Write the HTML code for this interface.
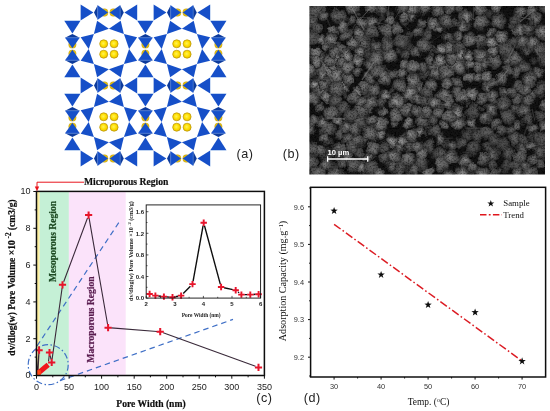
<!DOCTYPE html>
<html><head><meta charset="utf-8"><title>Figure</title>
<style>html,body{margin:0;padding:0;background:#fff}svg{display:block}</style></head>
<body>
<svg width="550" height="411" viewBox="0 0 550 411">
<defs>
<radialGradient id="ball" cx="45%" cy="45%" r="60%"><stop offset="0" stop-color="#fff25a"/><stop offset="0.5" stop-color="#ffe004"/><stop offset="0.85" stop-color="#f0c800"/><stop offset="1" stop-color="#d0a800"/></radialGradient>
<radialGradient id="ball2" cx="50%" cy="50%" r="55%"><stop offset="0" stop-color="#f2cf10"/><stop offset="0.8" stop-color="#e0b810"/><stop offset="1" stop-color="#b89818"/></radialGradient>
<filter id="soft" x="0" y="0" width="550" height="411" filterUnits="userSpaceOnUse"><feGaussianBlur stdDeviation="0.35"/></filter>

<clipPath id="semclip"><rect x="309.4" y="6" width="235.6" height="168.5"/></clipPath>
<radialGradient id="sg1" cx="45%" cy="42%" r="58%"><stop offset="0" stop-color="#787878"/><stop offset="0.55" stop-color="#5a5a5a"/><stop offset="0.88" stop-color="#383838"/><stop offset="1" stop-color="#262626" stop-opacity="0.7"/></radialGradient>
<radialGradient id="sg2" cx="55%" cy="48%" r="56%"><stop offset="0" stop-color="#6a6a6a"/><stop offset="0.6" stop-color="#525252"/><stop offset="0.9" stop-color="#343434"/><stop offset="1" stop-color="#222" stop-opacity="0.7"/></radialGradient>
<radialGradient id="sg3" cx="50%" cy="55%" r="55%"><stop offset="0" stop-color="#868686"/><stop offset="0.5" stop-color="#606060"/><stop offset="0.88" stop-color="#3a3a3a"/><stop offset="1" stop-color="#282828" stop-opacity="0.7"/></radialGradient>
<filter id="sem" x="300" y="0" width="250" height="180" filterUnits="userSpaceOnUse" color-interpolation-filters="sRGB"><feTurbulence type="fractalNoise" baseFrequency="0.13" numOctaves="2" seed="3" result="lo"/><feDisplacementMap in="SourceGraphic" in2="lo" scale="7" xChannelSelector="R" yChannelSelector="G" result="disp"/><feTurbulence type="fractalNoise" baseFrequency="0.6" numOctaves="3" seed="11" result="hi"/><feColorMatrix in="hi" type="matrix" values="0.9 0 0 0 0.5  0.9 0 0 0 0.5  0.9 0 0 0 0.5  0 0 0 0 1" result="grain"/><feBlend in="disp" in2="grain" mode="multiply" result="m"/><feGaussianBlur in="m" stdDeviation="0.45" result="bl"/><feComponentTransfer in="bl"><feFuncR type="linear" slope="1.4" intercept="-0.115"/><feFuncG type="linear" slope="1.4" intercept="-0.115"/><feFuncB type="linear" slope="1.4" intercept="-0.115"/></feComponentTransfer></filter>

</defs>
<rect width="550" height="411" fill="#fff"/>
<g id="panel-a" filter="url(#soft)">
<circle cx="104.3" cy="12.5" r="3.9" fill="url(#ball2)"/>
<circle cx="113.5" cy="12.5" r="3.9" fill="url(#ball2)"/>
<circle cx="177.3" cy="12.5" r="3.9" fill="url(#ball2)"/>
<circle cx="186.5" cy="12.5" r="3.9" fill="url(#ball2)"/>
<circle cx="104.3" cy="85.5" r="3.9" fill="url(#ball2)"/>
<circle cx="113.5" cy="85.5" r="3.9" fill="url(#ball2)"/>
<circle cx="177.3" cy="85.5" r="3.9" fill="url(#ball2)"/>
<circle cx="186.5" cy="85.5" r="3.9" fill="url(#ball2)"/>
<circle cx="104.3" cy="158.5" r="3.9" fill="url(#ball2)"/>
<circle cx="113.5" cy="158.5" r="3.9" fill="url(#ball2)"/>
<circle cx="177.3" cy="158.5" r="3.9" fill="url(#ball2)"/>
<circle cx="186.5" cy="158.5" r="3.9" fill="url(#ball2)"/>
<circle cx="72.4" cy="44.4" r="3.9" fill="url(#ball2)"/>
<circle cx="72.4" cy="53.6" r="3.9" fill="url(#ball2)"/>
<circle cx="72.4" cy="117.4" r="3.9" fill="url(#ball2)"/>
<circle cx="72.4" cy="126.6" r="3.9" fill="url(#ball2)"/>
<circle cx="145.4" cy="44.4" r="3.9" fill="url(#ball2)"/>
<circle cx="145.4" cy="53.6" r="3.9" fill="url(#ball2)"/>
<circle cx="145.4" cy="117.4" r="3.9" fill="url(#ball2)"/>
<circle cx="145.4" cy="126.6" r="3.9" fill="url(#ball2)"/>
<circle cx="218.4" cy="44.4" r="3.9" fill="url(#ball2)"/>
<circle cx="218.4" cy="53.6" r="3.9" fill="url(#ball2)"/>
<circle cx="218.4" cy="117.4" r="3.9" fill="url(#ball2)"/>
<circle cx="218.4" cy="126.6" r="3.9" fill="url(#ball2)"/>
<polygon points="97.7,5.2 94.0,12.5 97.7,19.8" fill="#0d3a9c"/>
<polygon points="108.1,12.5 97.7,5.2 97.7,19.8" fill="#1650c8"/>
<line x1="97.7" y1="5.2" x2="97.7" y2="19.8" stroke="#5a86e0" stroke-width="0.5"/>
<polygon points="120.1,5.2 123.8,12.5 120.1,19.8" fill="#0d3a9c"/>
<polygon points="109.7,12.5 120.1,5.2 120.1,19.8" fill="#1650c8"/>
<line x1="120.1" y1="5.2" x2="120.1" y2="19.8" stroke="#5a86e0" stroke-width="0.5"/>
<polygon points="170.7,5.2 167.0,12.5 170.7,19.8" fill="#0d3a9c"/>
<polygon points="181.1,12.5 170.7,5.2 170.7,19.8" fill="#1650c8"/>
<line x1="170.7" y1="5.2" x2="170.7" y2="19.8" stroke="#5a86e0" stroke-width="0.5"/>
<polygon points="193.1,5.2 196.8,12.5 193.1,19.8" fill="#0d3a9c"/>
<polygon points="182.7,12.5 193.1,5.2 193.1,19.8" fill="#1650c8"/>
<line x1="193.1" y1="5.2" x2="193.1" y2="19.8" stroke="#5a86e0" stroke-width="0.5"/>
<polygon points="97.7,78.2 94.0,85.5 97.7,92.8" fill="#0d3a9c"/>
<polygon points="108.1,85.5 97.7,78.2 97.7,92.8" fill="#1650c8"/>
<line x1="97.7" y1="78.2" x2="97.7" y2="92.8" stroke="#5a86e0" stroke-width="0.5"/>
<polygon points="120.1,78.2 123.8,85.5 120.1,92.8" fill="#0d3a9c"/>
<polygon points="109.7,85.5 120.1,78.2 120.1,92.8" fill="#1650c8"/>
<line x1="120.1" y1="78.2" x2="120.1" y2="92.8" stroke="#5a86e0" stroke-width="0.5"/>
<polygon points="170.7,78.2 167.0,85.5 170.7,92.8" fill="#0d3a9c"/>
<polygon points="181.1,85.5 170.7,78.2 170.7,92.8" fill="#1650c8"/>
<line x1="170.7" y1="78.2" x2="170.7" y2="92.8" stroke="#5a86e0" stroke-width="0.5"/>
<polygon points="193.1,78.2 196.8,85.5 193.1,92.8" fill="#0d3a9c"/>
<polygon points="182.7,85.5 193.1,78.2 193.1,92.8" fill="#1650c8"/>
<line x1="193.1" y1="78.2" x2="193.1" y2="92.8" stroke="#5a86e0" stroke-width="0.5"/>
<polygon points="97.7,151.2 94.0,158.5 97.7,165.8" fill="#0d3a9c"/>
<polygon points="108.1,158.5 97.7,151.2 97.7,165.8" fill="#1650c8"/>
<line x1="97.7" y1="151.2" x2="97.7" y2="165.8" stroke="#5a86e0" stroke-width="0.5"/>
<polygon points="120.1,151.2 123.8,158.5 120.1,165.8" fill="#0d3a9c"/>
<polygon points="109.7,158.5 120.1,151.2 120.1,165.8" fill="#1650c8"/>
<line x1="120.1" y1="151.2" x2="120.1" y2="165.8" stroke="#5a86e0" stroke-width="0.5"/>
<polygon points="170.7,151.2 167.0,158.5 170.7,165.8" fill="#0d3a9c"/>
<polygon points="181.1,158.5 170.7,151.2 170.7,165.8" fill="#1650c8"/>
<line x1="170.7" y1="151.2" x2="170.7" y2="165.8" stroke="#5a86e0" stroke-width="0.5"/>
<polygon points="193.1,151.2 196.8,158.5 193.1,165.8" fill="#0d3a9c"/>
<polygon points="182.7,158.5 193.1,151.2 193.1,165.8" fill="#1650c8"/>
<line x1="193.1" y1="151.2" x2="193.1" y2="165.8" stroke="#5a86e0" stroke-width="0.5"/>
<polygon points="65.1,37.8 72.4,34.1 79.7,37.8" fill="#0d3a9c"/>
<polygon points="72.4,48.2 65.1,37.8 79.7,37.8" fill="#1650c8"/>
<line x1="65.1" y1="37.8" x2="79.7" y2="37.8" stroke="#5a86e0" stroke-width="0.5"/>
<polygon points="65.1,60.2 72.4,63.9 79.7,60.2" fill="#0d3a9c"/>
<polygon points="72.4,49.8 65.1,60.2 79.7,60.2" fill="#1650c8"/>
<line x1="65.1" y1="60.2" x2="79.7" y2="60.2" stroke="#5a86e0" stroke-width="0.5"/>
<polygon points="65.1,110.8 72.4,107.1 79.7,110.8" fill="#0d3a9c"/>
<polygon points="72.4,121.2 65.1,110.8 79.7,110.8" fill="#1650c8"/>
<line x1="65.1" y1="110.8" x2="79.7" y2="110.8" stroke="#5a86e0" stroke-width="0.5"/>
<polygon points="65.1,133.2 72.4,136.9 79.7,133.2" fill="#0d3a9c"/>
<polygon points="72.4,122.8 65.1,133.2 79.7,133.2" fill="#1650c8"/>
<line x1="65.1" y1="133.2" x2="79.7" y2="133.2" stroke="#5a86e0" stroke-width="0.5"/>
<polygon points="138.1,37.8 145.4,34.1 152.7,37.8" fill="#0d3a9c"/>
<polygon points="145.4,48.2 138.1,37.8 152.7,37.8" fill="#1650c8"/>
<line x1="138.1" y1="37.8" x2="152.7" y2="37.8" stroke="#5a86e0" stroke-width="0.5"/>
<polygon points="138.1,60.2 145.4,63.9 152.7,60.2" fill="#0d3a9c"/>
<polygon points="145.4,49.8 138.1,60.2 152.7,60.2" fill="#1650c8"/>
<line x1="138.1" y1="60.2" x2="152.7" y2="60.2" stroke="#5a86e0" stroke-width="0.5"/>
<polygon points="138.1,110.8 145.4,107.1 152.7,110.8" fill="#0d3a9c"/>
<polygon points="145.4,121.2 138.1,110.8 152.7,110.8" fill="#1650c8"/>
<line x1="138.1" y1="110.8" x2="152.7" y2="110.8" stroke="#5a86e0" stroke-width="0.5"/>
<polygon points="138.1,133.2 145.4,136.9 152.7,133.2" fill="#0d3a9c"/>
<polygon points="145.4,122.8 138.1,133.2 152.7,133.2" fill="#1650c8"/>
<line x1="138.1" y1="133.2" x2="152.7" y2="133.2" stroke="#5a86e0" stroke-width="0.5"/>
<polygon points="211.1,37.8 218.4,34.1 225.7,37.8" fill="#0d3a9c"/>
<polygon points="218.4,48.2 211.1,37.8 225.7,37.8" fill="#1650c8"/>
<line x1="211.1" y1="37.8" x2="225.7" y2="37.8" stroke="#5a86e0" stroke-width="0.5"/>
<polygon points="211.1,60.2 218.4,63.9 225.7,60.2" fill="#0d3a9c"/>
<polygon points="218.4,49.8 211.1,60.2 225.7,60.2" fill="#1650c8"/>
<line x1="211.1" y1="60.2" x2="225.7" y2="60.2" stroke="#5a86e0" stroke-width="0.5"/>
<polygon points="211.1,110.8 218.4,107.1 225.7,110.8" fill="#0d3a9c"/>
<polygon points="218.4,121.2 211.1,110.8 225.7,110.8" fill="#1650c8"/>
<line x1="211.1" y1="110.8" x2="225.7" y2="110.8" stroke="#5a86e0" stroke-width="0.5"/>
<polygon points="211.1,133.2 218.4,136.9 225.7,133.2" fill="#0d3a9c"/>
<polygon points="218.4,122.8 211.1,133.2 225.7,133.2" fill="#1650c8"/>
<line x1="211.1" y1="133.2" x2="225.7" y2="133.2" stroke="#5a86e0" stroke-width="0.5"/>
<polygon points="108.9,28.8 93.9,34.0 97.1,20.8" fill="#1650c8"/>
<polygon points="108.9,28.8 123.9,34.0 120.7,20.8" fill="#1650c8"/>
<polygon points="108.9,69.2 93.9,64.0 97.1,77.2" fill="#1650c8"/>
<polygon points="108.9,69.2 123.9,64.0 120.7,77.2" fill="#1650c8"/>
<polygon points="88.7,49.0 93.9,34.0 80.7,37.2" fill="#1650c8"/>
<polygon points="129.1,49.0 123.9,34.0 137.1,37.2" fill="#1650c8"/>
<polygon points="88.7,49.0 93.9,64.0 80.7,60.8" fill="#1650c8"/>
<polygon points="129.1,49.0 123.9,64.0 137.1,60.8" fill="#1650c8"/>
<polygon points="108.9,101.8 93.9,107.0 97.1,93.8" fill="#1650c8"/>
<polygon points="108.9,101.8 123.9,107.0 120.7,93.8" fill="#1650c8"/>
<polygon points="108.9,142.2 93.9,137.0 97.1,150.2" fill="#1650c8"/>
<polygon points="108.9,142.2 123.9,137.0 120.7,150.2" fill="#1650c8"/>
<polygon points="88.7,122.0 93.9,107.0 80.7,110.2" fill="#1650c8"/>
<polygon points="129.1,122.0 123.9,107.0 137.1,110.2" fill="#1650c8"/>
<polygon points="88.7,122.0 93.9,137.0 80.7,133.8" fill="#1650c8"/>
<polygon points="129.1,122.0 123.9,137.0 137.1,133.8" fill="#1650c8"/>
<polygon points="181.9,28.8 166.9,34.0 170.1,20.8" fill="#1650c8"/>
<polygon points="181.9,28.8 196.9,34.0 193.7,20.8" fill="#1650c8"/>
<polygon points="181.9,69.2 166.9,64.0 170.1,77.2" fill="#1650c8"/>
<polygon points="181.9,69.2 196.9,64.0 193.7,77.2" fill="#1650c8"/>
<polygon points="161.7,49.0 166.9,34.0 153.7,37.2" fill="#1650c8"/>
<polygon points="202.1,49.0 196.9,34.0 210.1,37.2" fill="#1650c8"/>
<polygon points="161.7,49.0 166.9,64.0 153.7,60.8" fill="#1650c8"/>
<polygon points="202.1,49.0 196.9,64.0 210.1,60.8" fill="#1650c8"/>
<polygon points="181.9,101.8 166.9,107.0 170.1,93.8" fill="#1650c8"/>
<polygon points="181.9,101.8 196.9,107.0 193.7,93.8" fill="#1650c8"/>
<polygon points="181.9,142.2 166.9,137.0 170.1,150.2" fill="#1650c8"/>
<polygon points="181.9,142.2 196.9,137.0 193.7,150.2" fill="#1650c8"/>
<polygon points="161.7,122.0 166.9,107.0 153.7,110.2" fill="#1650c8"/>
<polygon points="202.1,122.0 196.9,107.0 210.1,110.2" fill="#1650c8"/>
<polygon points="161.7,122.0 166.9,137.0 153.7,133.8" fill="#1650c8"/>
<polygon points="202.1,122.0 196.9,137.0 210.1,133.8" fill="#1650c8"/>
<polygon points="80.6,4.4 80.6,20.6 93.4,12.5" fill="#1650c8"/>
<polygon points="64.3,20.7 80.5,20.7 72.4,33.5" fill="#1650c8"/>
<polygon points="80.6,77.4 80.6,93.6 93.4,85.5" fill="#1650c8"/>
<polygon points="64.3,93.7 80.5,93.7 72.4,106.5" fill="#1650c8"/>
<polygon points="64.3,77.3 80.5,77.3 72.4,64.5" fill="#1650c8"/>
<polygon points="80.6,150.4 80.6,166.6 93.4,158.5" fill="#1650c8"/>
<polygon points="64.3,150.3 80.5,150.3 72.4,137.5" fill="#1650c8"/>
<polygon points="153.6,4.4 153.6,20.6 166.4,12.5" fill="#1650c8"/>
<polygon points="137.2,4.4 137.2,20.6 124.4,12.5" fill="#1650c8"/>
<polygon points="137.3,20.7 153.5,20.7 145.4,33.5" fill="#1650c8"/>
<polygon points="153.6,77.4 153.6,93.6 166.4,85.5" fill="#1650c8"/>
<polygon points="137.2,77.4 137.2,93.6 124.4,85.5" fill="#1650c8"/>
<polygon points="137.3,93.7 153.5,93.7 145.4,106.5" fill="#1650c8"/>
<polygon points="137.3,77.3 153.5,77.3 145.4,64.5" fill="#1650c8"/>
<polygon points="153.6,150.4 153.6,166.6 166.4,158.5" fill="#1650c8"/>
<polygon points="137.2,150.4 137.2,166.6 124.4,158.5" fill="#1650c8"/>
<polygon points="137.3,150.3 153.5,150.3 145.4,137.5" fill="#1650c8"/>
<polygon points="210.2,4.4 210.2,20.6 197.4,12.5" fill="#1650c8"/>
<polygon points="210.3,20.7 226.5,20.7 218.4,33.5" fill="#1650c8"/>
<polygon points="210.2,77.4 210.2,93.6 197.4,85.5" fill="#1650c8"/>
<polygon points="210.3,93.7 226.5,93.7 218.4,106.5" fill="#1650c8"/>
<polygon points="210.3,77.3 226.5,77.3 218.4,64.5" fill="#1650c8"/>
<polygon points="210.2,150.4 210.2,166.6 197.4,158.5" fill="#1650c8"/>
<polygon points="210.3,150.3 226.5,150.3 218.4,137.5" fill="#1650c8"/>
<circle cx="103.7" cy="43.8" r="4.0" fill="url(#ball)" stroke="#b8940c" stroke-width="0.7"/>
<circle cx="103.7" cy="54.2" r="4.0" fill="url(#ball)" stroke="#b8940c" stroke-width="0.7"/>
<circle cx="114.1" cy="43.8" r="4.0" fill="url(#ball)" stroke="#b8940c" stroke-width="0.7"/>
<circle cx="114.1" cy="54.2" r="4.0" fill="url(#ball)" stroke="#b8940c" stroke-width="0.7"/>
<circle cx="103.7" cy="116.8" r="4.0" fill="url(#ball)" stroke="#b8940c" stroke-width="0.7"/>
<circle cx="103.7" cy="127.2" r="4.0" fill="url(#ball)" stroke="#b8940c" stroke-width="0.7"/>
<circle cx="114.1" cy="116.8" r="4.0" fill="url(#ball)" stroke="#b8940c" stroke-width="0.7"/>
<circle cx="114.1" cy="127.2" r="4.0" fill="url(#ball)" stroke="#b8940c" stroke-width="0.7"/>
<circle cx="176.7" cy="43.8" r="4.0" fill="url(#ball)" stroke="#b8940c" stroke-width="0.7"/>
<circle cx="176.7" cy="54.2" r="4.0" fill="url(#ball)" stroke="#b8940c" stroke-width="0.7"/>
<circle cx="187.1" cy="43.8" r="4.0" fill="url(#ball)" stroke="#b8940c" stroke-width="0.7"/>
<circle cx="187.1" cy="54.2" r="4.0" fill="url(#ball)" stroke="#b8940c" stroke-width="0.7"/>
<circle cx="176.7" cy="116.8" r="4.0" fill="url(#ball)" stroke="#b8940c" stroke-width="0.7"/>
<circle cx="176.7" cy="127.2" r="4.0" fill="url(#ball)" stroke="#b8940c" stroke-width="0.7"/>
<circle cx="187.1" cy="116.8" r="4.0" fill="url(#ball)" stroke="#b8940c" stroke-width="0.7"/>
<circle cx="187.1" cy="127.2" r="4.0" fill="url(#ball)" stroke="#b8940c" stroke-width="0.7"/>
<text x="245" y="157.9" font-family="Liberation Sans, sans-serif" font-size="12.6" letter-spacing="0.5" text-anchor="middle" fill="#222">(a)</text>
<text x="291.2" y="157.9" font-family="Liberation Sans, sans-serif" font-size="12.6" letter-spacing="0.5" text-anchor="middle" fill="#222">(b)</text>
</g>
<g id="panel-b">
<g clip-path="url(#semclip)">
<g filter="url(#sem)">
<rect x="299.4" y="-4.0" width="255.6" height="188.5" fill="#232323"/>
<circle cx="341.7" cy="144.4" r="3.5" fill="url(#sg2)" opacity="0.42"/>
<circle cx="368.7" cy="46.6" r="4.4" fill="url(#sg2)" opacity="0.46"/>
<circle cx="320.5" cy="131.1" r="2.7" fill="url(#sg2)" opacity="0.44"/>
<circle cx="531.9" cy="74.8" r="3.9" fill="url(#sg2)" opacity="0.45"/>
<circle cx="512.8" cy="22.9" r="2.6" fill="url(#sg2)" opacity="0.42"/>
<circle cx="472.8" cy="105.0" r="4.2" fill="url(#sg2)" opacity="0.46"/>
<circle cx="374.9" cy="89.7" r="2.9" fill="url(#sg2)" opacity="0.48"/>
<circle cx="412.4" cy="53.5" r="3.8" fill="url(#sg2)" opacity="0.47"/>
<circle cx="379.9" cy="52.3" r="4.0" fill="url(#sg2)" opacity="0.46"/>
<circle cx="329.6" cy="141.0" r="3.6" fill="url(#sg2)" opacity="0.42"/>
<circle cx="363.3" cy="25.4" r="3.7" fill="url(#sg2)" opacity="0.46"/>
<circle cx="428.1" cy="127.2" r="3.4" fill="url(#sg2)" opacity="0.48"/>
<circle cx="406.5" cy="156.4" r="3.1" fill="url(#sg2)" opacity="0.46"/>
<circle cx="540.5" cy="156.4" r="4.8" fill="url(#sg2)" opacity="0.40"/>
<circle cx="531.6" cy="49.3" r="4.4" fill="url(#sg2)" opacity="0.42"/>
<circle cx="453.6" cy="40.4" r="4.8" fill="url(#sg2)" opacity="0.50"/>
<circle cx="462.0" cy="142.4" r="3.8" fill="url(#sg2)" opacity="0.44"/>
<circle cx="328.1" cy="151.5" r="2.9" fill="url(#sg2)" opacity="0.41"/>
<circle cx="370.4" cy="109.8" r="2.9" fill="url(#sg2)" opacity="0.49"/>
<circle cx="418.4" cy="126.2" r="2.7" fill="url(#sg2)" opacity="0.49"/>
<circle cx="465.1" cy="23.6" r="3.6" fill="url(#sg2)" opacity="0.47"/>
<circle cx="462.4" cy="121.8" r="2.6" fill="url(#sg2)" opacity="0.45"/>
<circle cx="354.4" cy="167.8" r="3.4" fill="url(#sg2)" opacity="0.45"/>
<circle cx="409.5" cy="69.1" r="4.1" fill="url(#sg2)" opacity="0.48"/>
<circle cx="483.8" cy="115.6" r="3.4" fill="url(#sg2)" opacity="0.44"/>
<circle cx="443.6" cy="92.8" r="2.9" fill="url(#sg2)" opacity="0.48"/>
<circle cx="533.1" cy="168.6" r="4.3" fill="url(#sg2)" opacity="0.40"/>
<circle cx="543.2" cy="84.5" r="4.4" fill="url(#sg2)" opacity="0.46"/>
<circle cx="366.1" cy="131.1" r="4.1" fill="url(#sg2)" opacity="0.47"/>
<circle cx="530.5" cy="146.4" r="4.5" fill="url(#sg2)" opacity="0.37"/>
<circle cx="372.5" cy="138.7" r="3.6" fill="url(#sg2)" opacity="0.47"/>
<circle cx="383.0" cy="68.1" r="4.3" fill="url(#sg2)" opacity="0.47"/>
<circle cx="508.0" cy="148.3" r="4.0" fill="url(#sg2)" opacity="0.34"/>
<circle cx="349.5" cy="32.2" r="3.8" fill="url(#sg2)" opacity="0.47"/>
<circle cx="359.4" cy="62.7" r="2.7" fill="url(#sg2)" opacity="0.49"/>
<circle cx="345.9" cy="126.8" r="3.0" fill="url(#sg2)" opacity="0.45"/>
<circle cx="509.2" cy="61.5" r="4.5" fill="url(#sg2)" opacity="0.44"/>
<circle cx="380.7" cy="51.1" r="3.4" fill="url(#sg2)" opacity="0.46"/>
<circle cx="312.2" cy="79.4" r="3.4" fill="url(#sg2)" opacity="0.55"/>
<circle cx="312.4" cy="151.2" r="3.4" fill="url(#sg2)" opacity="0.43"/>
<circle cx="309.5" cy="167.8" r="3.0" fill="url(#sg2)" opacity="0.45"/>
<circle cx="369.0" cy="10.1" r="2.7" fill="url(#sg2)" opacity="0.46"/>
<circle cx="476.6" cy="104.1" r="3.7" fill="url(#sg2)" opacity="0.46"/>
<circle cx="367.4" cy="54.3" r="4.7" fill="url(#sg2)" opacity="0.47"/>
<circle cx="397.1" cy="172.7" r="4.5" fill="url(#sg2)" opacity="0.46"/>
<circle cx="338.8" cy="148.9" r="2.5" fill="url(#sg2)" opacity="0.41"/>
<circle cx="476.9" cy="142.4" r="4.1" fill="url(#sg2)" opacity="0.40"/>
<circle cx="438.9" cy="143.0" r="2.9" fill="url(#sg2)" opacity="0.46"/>
<circle cx="436.6" cy="50.8" r="3.4" fill="url(#sg2)" opacity="0.51"/>
<circle cx="354.5" cy="125.3" r="3.8" fill="url(#sg2)" opacity="0.46"/>
<circle cx="493.0" cy="111.9" r="3.9" fill="url(#sg2)" opacity="0.44"/>
<circle cx="526.6" cy="142.9" r="3.8" fill="url(#sg2)" opacity="0.37"/>
<circle cx="386.2" cy="162.3" r="3.4" fill="url(#sg2)" opacity="0.46"/>
<circle cx="333.5" cy="62.2" r="4.1" fill="url(#sg2)" opacity="0.62"/>
<circle cx="528.8" cy="114.8" r="4.0" fill="url(#sg2)" opacity="0.44"/>
<circle cx="530.2" cy="137.1" r="3.5" fill="url(#sg2)" opacity="0.38"/>
<circle cx="418.2" cy="134.0" r="3.2" fill="url(#sg2)" opacity="0.48"/>
<circle cx="335.3" cy="110.4" r="4.4" fill="url(#sg2)" opacity="0.47"/>
<circle cx="367.9" cy="121.2" r="4.6" fill="url(#sg2)" opacity="0.48"/>
<circle cx="339.5" cy="28.9" r="3.6" fill="url(#sg2)" opacity="0.47"/>
<circle cx="388.2" cy="166.0" r="4.8" fill="url(#sg2)" opacity="0.46"/>
<circle cx="414.4" cy="139.6" r="4.0" fill="url(#sg2)" opacity="0.47"/>
<circle cx="350.3" cy="169.7" r="2.9" fill="url(#sg2)" opacity="0.45"/>
<circle cx="327.3" cy="82.3" r="2.5" fill="url(#sg2)" opacity="0.62"/>
<circle cx="422.7" cy="75.4" r="4.7" fill="url(#sg2)" opacity="0.49"/>
<circle cx="406.9" cy="149.2" r="4.3" fill="url(#sg2)" opacity="0.47"/>
<circle cx="447.5" cy="46.1" r="3.2" fill="url(#sg2)" opacity="0.52"/>
<circle cx="425.2" cy="72.6" r="4.0" fill="url(#sg2)" opacity="0.49"/>
<circle cx="428.5" cy="60.4" r="3.9" fill="url(#sg2)" opacity="0.51"/>
<circle cx="544.2" cy="40.1" r="3.3" fill="url(#sg2)" opacity="0.44"/>
<circle cx="312.2" cy="21.8" r="2.6" fill="url(#sg2)" opacity="0.46"/>
<circle cx="409.0" cy="147.0" r="4.1" fill="url(#sg2)" opacity="0.47"/>
<circle cx="537.0" cy="147.0" r="3.8" fill="url(#sg2)" opacity="0.39"/>
<circle cx="446.1" cy="8.1" r="3.4" fill="url(#sg2)" opacity="0.46"/>
<circle cx="371.0" cy="110.6" r="2.7" fill="url(#sg2)" opacity="0.49"/>
<circle cx="437.2" cy="69.3" r="3.6" fill="url(#sg2)" opacity="0.53"/>
<circle cx="404.7" cy="23.2" r="4.2" fill="url(#sg2)" opacity="0.46"/>
<circle cx="498.0" cy="106.8" r="2.8" fill="url(#sg2)" opacity="0.45"/>
<circle cx="450.6" cy="152.8" r="4.8" fill="url(#sg2)" opacity="0.45"/>
<circle cx="488.1" cy="13.7" r="4.5" fill="url(#sg2)" opacity="0.46"/>
<circle cx="466.1" cy="52.6" r="4.6" fill="url(#sg2)" opacity="0.53"/>
<circle cx="504.0" cy="156.8" r="3.1" fill="url(#sg2)" opacity="0.35"/>
<circle cx="445.3" cy="69.8" r="3.2" fill="url(#sg2)" opacity="0.54"/>
<circle cx="488.7" cy="109.9" r="3.3" fill="url(#sg2)" opacity="0.45"/>
<circle cx="437.3" cy="162.4" r="3.8" fill="url(#sg2)" opacity="0.46"/>
<circle cx="524.6" cy="101.4" r="4.8" fill="url(#sg2)" opacity="0.45"/>
<circle cx="316.3" cy="83.5" r="3.8" fill="url(#sg2)" opacity="0.56"/>
<circle cx="480.6" cy="169.2" r="3.9" fill="url(#sg2)" opacity="0.42"/>
<circle cx="422.0" cy="112.9" r="3.7" fill="url(#sg2)" opacity="0.50"/>
<circle cx="475.5" cy="165.6" r="2.5" fill="url(#sg2)" opacity="0.42"/>
<circle cx="384.9" cy="153.7" r="2.6" fill="url(#sg2)" opacity="0.46"/>
<circle cx="495.6" cy="11.2" r="4.0" fill="url(#sg2)" opacity="0.46"/>
<circle cx="498.0" cy="46.1" r="3.4" fill="url(#sg2)" opacity="0.44"/>
<circle cx="362.7" cy="124.8" r="3.7" fill="url(#sg2)" opacity="0.47"/>
<circle cx="452.1" cy="60.8" r="3.8" fill="url(#sg2)" opacity="0.56"/>
<circle cx="534.3" cy="137.3" r="4.7" fill="url(#sg2)" opacity="0.39"/>
<circle cx="367.6" cy="93.0" r="3.4" fill="url(#sg2)" opacity="0.48"/>
<circle cx="390.9" cy="141.4" r="2.9" fill="url(#sg2)" opacity="0.47"/>
<circle cx="441.0" cy="136.4" r="4.7" fill="url(#sg2)" opacity="0.46"/>
<circle cx="313.8" cy="51.6" r="3.6" fill="url(#sg2)" opacity="0.51"/>
<circle cx="530.0" cy="33.5" r="4.4" fill="url(#sg2)" opacity="0.41"/>
<circle cx="403.0" cy="98.3" r="4.6" fill="url(#sg2)" opacity="0.51"/>
<circle cx="324.5" cy="61.5" r="2.9" fill="url(#sg2)" opacity="0.61"/>
<circle cx="340.9" cy="57.2" r="4.1" fill="url(#sg2)" opacity="0.56"/>
<circle cx="446.1" cy="26.5" r="4.3" fill="url(#sg2)" opacity="0.47"/>
<circle cx="428.9" cy="30.1" r="4.4" fill="url(#sg2)" opacity="0.47"/>
<circle cx="502.8" cy="42.5" r="4.7" fill="url(#sg2)" opacity="0.42"/>
<circle cx="500.3" cy="44.6" r="2.5" fill="url(#sg2)" opacity="0.43"/>
<circle cx="513.7" cy="145.2" r="2.7" fill="url(#sg2)" opacity="0.35"/>
<circle cx="490.0" cy="136.3" r="4.0" fill="url(#sg2)" opacity="0.39"/>
<circle cx="505.5" cy="171.9" r="3.3" fill="url(#sg2)" opacity="0.39"/>
<circle cx="505.9" cy="161.2" r="3.2" fill="url(#sg2)" opacity="0.36"/>
<circle cx="470.4" cy="121.3" r="4.5" fill="url(#sg2)" opacity="0.44"/>
<circle cx="443.0" cy="52.4" r="3.1" fill="url(#sg2)" opacity="0.53"/>
<circle cx="437.3" cy="28.8" r="4.5" fill="url(#sg2)" opacity="0.47"/>
<circle cx="518.9" cy="46.8" r="4.1" fill="url(#sg2)" opacity="0.40"/>
<circle cx="468.0" cy="26.5" r="4.3" fill="url(#sg2)" opacity="0.47"/>
<circle cx="489.9" cy="57.6" r="2.7" fill="url(#sg2)" opacity="0.48"/>
<circle cx="375.8" cy="136.0" r="3.6" fill="url(#sg2)" opacity="0.47"/>
<circle cx="501.5" cy="32.9" r="2.7" fill="url(#sg2)" opacity="0.43"/>
<circle cx="391.6" cy="154.3" r="2.9" fill="url(#sg2)" opacity="0.46"/>
<circle cx="326.7" cy="132.9" r="2.7" fill="url(#sg2)" opacity="0.43"/>
<circle cx="466.7" cy="20.1" r="3.1" fill="url(#sg2)" opacity="0.46"/>
<circle cx="465.7" cy="153.2" r="3.4" fill="url(#sg2)" opacity="0.43"/>
<circle cx="415.3" cy="11.2" r="3.3" fill="url(#sg2)" opacity="0.46"/>
<circle cx="366.4" cy="138.9" r="4.1" fill="url(#sg2)" opacity="0.46"/>
<circle cx="494.2" cy="95.6" r="4.1" fill="url(#sg2)" opacity="0.46"/>
<circle cx="339.4" cy="70.9" r="3.2" fill="url(#sg2)" opacity="0.62"/>
<circle cx="375.9" cy="130.6" r="3.0" fill="url(#sg2)" opacity="0.48"/>
<circle cx="386.1" cy="53.6" r="4.5" fill="url(#sg2)" opacity="0.46"/>
<circle cx="459.8" cy="87.0" r="3.4" fill="url(#sg2)" opacity="0.49"/>
<circle cx="526.5" cy="164.3" r="3.5" fill="url(#sg2)" opacity="0.38"/>
<circle cx="442.9" cy="151.3" r="3.1" fill="url(#sg2)" opacity="0.46"/>
<circle cx="370.3" cy="23.4" r="3.7" fill="url(#sg2)" opacity="0.46"/>
<circle cx="490.4" cy="32.4" r="3.5" fill="url(#sg2)" opacity="0.45"/>
<circle cx="542.8" cy="87.1" r="3.4" fill="url(#sg2)" opacity="0.46"/>
<circle cx="507.2" cy="156.3" r="3.4" fill="url(#sg2)" opacity="0.35"/>
<circle cx="338.5" cy="113.3" r="4.2" fill="url(#sg2)" opacity="0.47"/>
<circle cx="526.9" cy="117.2" r="3.2" fill="url(#sg2)" opacity="0.43"/>
<circle cx="430.7" cy="54.5" r="3.5" fill="url(#sg2)" opacity="0.51"/>
<circle cx="419.7" cy="159.7" r="4.6" fill="url(#sg2)" opacity="0.46"/>
<circle cx="527.6" cy="86.5" r="4.7" fill="url(#sg2)" opacity="0.46"/>
<circle cx="342.1" cy="161.2" r="4.0" fill="url(#sg2)" opacity="0.43"/>
<circle cx="515.0" cy="75.6" r="4.8" fill="url(#sg2)" opacity="0.45"/>
<circle cx="315.3" cy="148.9" r="4.4" fill="url(#sg2)" opacity="0.42"/>
<circle cx="397.6" cy="145.6" r="3.0" fill="url(#sg2)" opacity="0.47"/>
<circle cx="486.7" cy="84.9" r="3.4" fill="url(#sg2)" opacity="0.47"/>
<circle cx="355.7" cy="140.8" r="4.2" fill="url(#sg2)" opacity="0.45"/>
<circle cx="330.4" cy="170.8" r="3.0" fill="url(#sg2)" opacity="0.44"/>
<circle cx="397.8" cy="75.9" r="3.8" fill="url(#sg2)" opacity="0.47"/>
<circle cx="519.1" cy="165.3" r="4.0" fill="url(#sg2)" opacity="0.37"/>
<circle cx="395.5" cy="24.1" r="2.7" fill="url(#sg2)" opacity="0.46"/>
<circle cx="431.6" cy="104.3" r="3.5" fill="url(#sg2)" opacity="0.48"/>
<circle cx="540.9" cy="75.7" r="3.3" fill="url(#sg2)" opacity="0.46"/>
<circle cx="407.9" cy="34.9" r="4.7" fill="url(#sg2)" opacity="0.46"/>
<circle cx="448.6" cy="97.5" r="3.5" fill="url(#sg2)" opacity="0.47"/>
<circle cx="368.3" cy="59.1" r="3.6" fill="url(#sg2)" opacity="0.47"/>
<circle cx="414.5" cy="171.0" r="3.8" fill="url(#sg2)" opacity="0.46"/>
<circle cx="358.2" cy="15.0" r="2.9" fill="url(#sg2)" opacity="0.46"/>
<circle cx="390.9" cy="137.8" r="4.5" fill="url(#sg2)" opacity="0.48"/>
<circle cx="365.1" cy="137.5" r="3.5" fill="url(#sg2)" opacity="0.46"/>
<circle cx="436.0" cy="95.8" r="2.6" fill="url(#sg2)" opacity="0.48"/>
<circle cx="325.0" cy="118.5" r="4.1" fill="url(#sg2)" opacity="0.46"/>
<circle cx="399.0" cy="160.9" r="4.4" fill="url(#sg2)" opacity="0.46"/>
<circle cx="380.5" cy="17.3" r="3.8" fill="url(#sg2)" opacity="0.46"/>
<circle cx="463.6" cy="43.8" r="2.6" fill="url(#sg2)" opacity="0.51"/>
<circle cx="424.2" cy="11.8" r="4.2" fill="url(#sg2)" opacity="0.46"/>
<circle cx="456.8" cy="53.0" r="3.5" fill="url(#sg2)" opacity="0.55"/>
<circle cx="364.3" cy="37.3" r="2.9" fill="url(#sg2)" opacity="0.46"/>
<circle cx="501.6" cy="82.4" r="4.1" fill="url(#sg2)" opacity="0.46"/>
<circle cx="391.3" cy="142.0" r="3.9" fill="url(#sg2)" opacity="0.47"/>
<circle cx="463.5" cy="72.2" r="3.8" fill="url(#sg2)" opacity="0.54"/>
<circle cx="354.3" cy="170.1" r="4.0" fill="url(#sg2)" opacity="0.45"/>
<circle cx="434.9" cy="113.6" r="2.7" fill="url(#sg2)" opacity="0.48"/>
<circle cx="388.2" cy="44.9" r="4.4" fill="url(#sg2)" opacity="0.46"/>
<circle cx="312.4" cy="80.9" r="4.5" fill="url(#sg2)" opacity="0.55"/>
<circle cx="493.8" cy="127.1" r="3.2" fill="url(#sg2)" opacity="0.40"/>
<circle cx="364.1" cy="124.7" r="3.2" fill="url(#sg2)" opacity="0.47"/>
<circle cx="479.8" cy="65.0" r="4.2" fill="url(#sg2)" opacity="0.51"/>
<circle cx="444.4" cy="143.4" r="4.8" fill="url(#sg2)" opacity="0.46"/>
<circle cx="398.6" cy="172.2" r="2.5" fill="url(#sg2)" opacity="0.46"/>
<circle cx="516.1" cy="11.0" r="3.8" fill="url(#sg2)" opacity="0.45"/>
<circle cx="400.9" cy="135.7" r="3.2" fill="url(#sg2)" opacity="0.48"/>
<circle cx="358.5" cy="138.1" r="3.8" fill="url(#sg2)" opacity="0.45"/>
<circle cx="487.4" cy="88.5" r="2.6" fill="url(#sg2)" opacity="0.47"/>
<circle cx="491.1" cy="42.8" r="3.6" fill="url(#sg2)" opacity="0.46"/>
<circle cx="309.5" cy="49.6" r="4.0" fill="url(#sg2)" opacity="0.50"/>
<circle cx="489.4" cy="113.2" r="3.5" fill="url(#sg2)" opacity="0.44"/>
<circle cx="482.0" cy="118.7" r="3.0" fill="url(#sg2)" opacity="0.44"/>
<circle cx="435.5" cy="106.7" r="4.2" fill="url(#sg2)" opacity="0.48"/>
<circle cx="356.0" cy="58.4" r="3.3" fill="url(#sg2)" opacity="0.50"/>
<circle cx="332.0" cy="64.7" r="4.2" fill="url(#sg2)" opacity="0.63"/>
<circle cx="445.5" cy="35.1" r="4.2" fill="url(#sg2)" opacity="0.48"/>
<circle cx="336.9" cy="132.6" r="2.8" fill="url(#sg2)" opacity="0.44"/>
<circle cx="332.1" cy="48.4" r="3.7" fill="url(#sg2)" opacity="0.53"/>
<circle cx="373.0" cy="155.0" r="4.7" fill="url(#sg2)" opacity="0.46"/>
<circle cx="376.2" cy="132.4" r="4.1" fill="url(#sg2)" opacity="0.48"/>
<circle cx="441.6" cy="49.0" r="4.7" fill="url(#sg2)" opacity="0.52"/>
<circle cx="534.7" cy="8.2" r="3.3" fill="url(#sg2)" opacity="0.45"/>
<circle cx="385.0" cy="39.4" r="3.5" fill="url(#sg2)" opacity="0.46"/>
<circle cx="521.0" cy="10.0" r="4.4" fill="url(#sg2)" opacity="0.45"/>
<circle cx="382.2" cy="8.3" r="4.6" fill="url(#sg2)" opacity="0.46"/>
<circle cx="373.6" cy="41.7" r="2.8" fill="url(#sg2)" opacity="0.46"/>
<circle cx="395.9" cy="26.1" r="2.9" fill="url(#sg2)" opacity="0.46"/>
<circle cx="368.3" cy="103.4" r="3.5" fill="url(#sg2)" opacity="0.48"/>
<circle cx="381.3" cy="94.6" r="4.3" fill="url(#sg2)" opacity="0.49"/>
<circle cx="480.0" cy="63.9" r="4.6" fill="url(#sg2)" opacity="0.51"/>
<circle cx="495.8" cy="100.7" r="3.6" fill="url(#sg2)" opacity="0.46"/>
<circle cx="387.0" cy="28.6" r="4.5" fill="url(#sg2)" opacity="0.46"/>
<circle cx="452.7" cy="22.6" r="4.6" fill="url(#sg2)" opacity="0.47"/>
<circle cx="518.4" cy="11.7" r="4.1" fill="url(#sg2)" opacity="0.44"/>
<circle cx="365.5" cy="96.2" r="4.4" fill="url(#sg2)" opacity="0.48"/>
<circle cx="392.0" cy="90.0" r="4.0" fill="url(#sg2)" opacity="0.49"/>
<circle cx="354.7" cy="111.6" r="3.5" fill="url(#sg2)" opacity="0.47"/>
<circle cx="540.9" cy="37.6" r="4.1" fill="url(#sg2)" opacity="0.43"/>
<circle cx="319.1" cy="52.2" r="2.8" fill="url(#sg2)" opacity="0.54"/>
<circle cx="344.5" cy="95.0" r="2.9" fill="url(#sg2)" opacity="0.51"/>
<circle cx="496.6" cy="22.2" r="3.9" fill="url(#sg2)" opacity="0.45"/>
<circle cx="512.3" cy="27.3" r="3.0" fill="url(#sg2)" opacity="0.42"/>
<circle cx="489.6" cy="85.2" r="4.6" fill="url(#sg2)" opacity="0.47"/>
<circle cx="389.0" cy="73.1" r="4.7" fill="url(#sg2)" opacity="0.47"/>
<circle cx="390.4" cy="168.8" r="4.5" fill="url(#sg2)" opacity="0.46"/>
<circle cx="356.6" cy="98.0" r="4.7" fill="url(#sg2)" opacity="0.48"/>
<circle cx="337.1" cy="149.0" r="4.3" fill="url(#sg2)" opacity="0.41"/>
<circle cx="485.9" cy="107.2" r="2.7" fill="url(#sg2)" opacity="0.45"/>
<circle cx="535.2" cy="23.2" r="4.3" fill="url(#sg2)" opacity="0.43"/>
<circle cx="479.8" cy="59.5" r="4.1" fill="url(#sg2)" opacity="0.51"/>
<circle cx="406.1" cy="132.5" r="2.6" fill="url(#sg2)" opacity="0.49"/>
<circle cx="529.3" cy="70.8" r="4.3" fill="url(#sg2)" opacity="0.45"/>
<circle cx="420.5" cy="142.9" r="3.2" fill="url(#sg2)" opacity="0.47"/>
<circle cx="437.8" cy="10.2" r="3.6" fill="url(#sg2)" opacity="0.46"/>
<circle cx="328.1" cy="150.8" r="4.1" fill="url(#sg2)" opacity="0.41"/>
<circle cx="409.5" cy="170.2" r="4.7" fill="url(#sg2)" opacity="0.46"/>
<circle cx="534.8" cy="19.9" r="4.1" fill="url(#sg2)" opacity="0.44"/>
<circle cx="480.8" cy="108.1" r="2.5" fill="url(#sg2)" opacity="0.45"/>
<circle cx="527.1" cy="79.9" r="3.9" fill="url(#sg2)" opacity="0.46"/>
<circle cx="501.3" cy="52.4" r="2.6" fill="url(#sg2)" opacity="0.44"/>
<circle cx="526.9" cy="51.6" r="2.6" fill="url(#sg2)" opacity="0.41"/>
<circle cx="341.6" cy="173.6" r="4.2" fill="url(#sg2)" opacity="0.45"/>
<circle cx="358.9" cy="30.7" r="4.6" fill="url(#sg2)" opacity="0.46"/>
<circle cx="466.0" cy="104.2" r="2.8" fill="url(#sg2)" opacity="0.46"/>
<circle cx="406.8" cy="165.5" r="2.5" fill="url(#sg2)" opacity="0.46"/>
<circle cx="408.1" cy="15.6" r="4.8" fill="url(#sg2)" opacity="0.46"/>
<circle cx="334.0" cy="166.7" r="4.4" fill="url(#sg2)" opacity="0.43"/>
<circle cx="481.8" cy="13.1" r="4.1" fill="url(#sg2)" opacity="0.46"/>
<circle cx="425.5" cy="88.8" r="2.8" fill="url(#sg2)" opacity="0.49"/>
<circle cx="430.1" cy="141.1" r="2.8" fill="url(#sg2)" opacity="0.47"/>
<circle cx="515.8" cy="76.8" r="3.1" fill="url(#sg2)" opacity="0.46"/>
<circle cx="365.8" cy="83.5" r="4.0" fill="url(#sg2)" opacity="0.48"/>
<circle cx="443.7" cy="156.0" r="3.7" fill="url(#sg2)" opacity="0.45"/>
<circle cx="430.2" cy="172.6" r="3.0" fill="url(#sg2)" opacity="0.46"/>
<circle cx="313.3" cy="61.4" r="3.2" fill="url(#sg2)" opacity="0.55"/>
<circle cx="338.6" cy="76.5" r="2.6" fill="url(#sg2)" opacity="0.62"/>
<circle cx="526.3" cy="87.6" r="4.5" fill="url(#sg2)" opacity="0.46"/>
<circle cx="473.7" cy="129.0" r="4.2" fill="url(#sg2)" opacity="0.43"/>
<circle cx="380.5" cy="128.9" r="3.0" fill="url(#sg2)" opacity="0.49"/>
<circle cx="440.1" cy="106.3" r="4.3" fill="url(#sg2)" opacity="0.47"/>
<circle cx="348.9" cy="64.0" r="4.4" fill="url(#sg2)" opacity="0.54"/>
<circle cx="499.0" cy="170.8" r="2.8" fill="url(#sg2)" opacity="0.39"/>
<circle cx="358.9" cy="24.0" r="4.2" fill="url(#sg2)" opacity="0.46"/>
<circle cx="485.0" cy="115.2" r="4.3" fill="url(#sg2)" opacity="0.44"/>
<circle cx="431.0" cy="100.7" r="4.6" fill="url(#sg2)" opacity="0.48"/>
<circle cx="462.1" cy="116.5" r="3.9" fill="url(#sg2)" opacity="0.45"/>
<circle cx="425.8" cy="133.5" r="3.8" fill="url(#sg2)" opacity="0.47"/>
<circle cx="339.8" cy="77.8" r="3.5" fill="url(#sg2)" opacity="0.61"/>
<circle cx="411.2" cy="100.5" r="3.3" fill="url(#sg2)" opacity="0.51"/>
<circle cx="401.6" cy="77.9" r="3.4" fill="url(#sg2)" opacity="0.48"/>
<circle cx="538.4" cy="21.2" r="2.5" fill="url(#sg2)" opacity="0.44"/>
<circle cx="479.4" cy="72.6" r="3.5" fill="url(#sg2)" opacity="0.50"/>
<circle cx="448.8" cy="67.8" r="3.1" fill="url(#sg2)" opacity="0.55"/>
<circle cx="313.0" cy="153.2" r="4.7" fill="url(#sg2)" opacity="0.43"/>
<circle cx="376.8" cy="84.4" r="3.2" fill="url(#sg2)" opacity="0.48"/>
<circle cx="323.1" cy="156.4" r="4.4" fill="url(#sg2)" opacity="0.42"/>
<circle cx="366.2" cy="48.9" r="4.1" fill="url(#sg2)" opacity="0.47"/>
<circle cx="497.1" cy="85.1" r="3.4" fill="url(#sg2)" opacity="0.46"/>
<circle cx="364.4" cy="140.5" r="4.5" fill="url(#sg2)" opacity="0.46"/>
<circle cx="511.5" cy="25.3" r="3.9" fill="url(#sg2)" opacity="0.42"/>
<circle cx="541.5" cy="126.5" r="3.6" fill="url(#sg2)" opacity="0.43"/>
<circle cx="343.6" cy="16.2" r="4.2" fill="url(#sg2)" opacity="0.46"/>
<circle cx="325.6" cy="142.3" r="4.0" fill="url(#sg2)" opacity="0.41"/>
<circle cx="421.0" cy="156.2" r="4.6" fill="url(#sg2)" opacity="0.46"/>
<circle cx="454.7" cy="22.8" r="3.9" fill="url(#sg2)" opacity="0.47"/>
<circle cx="408.6" cy="48.1" r="4.6" fill="url(#sg2)" opacity="0.47"/>
<circle cx="481.5" cy="26.5" r="3.0" fill="url(#sg2)" opacity="0.46"/>
<circle cx="390.1" cy="102.5" r="3.2" fill="url(#sg2)" opacity="0.52"/>
<circle cx="413.0" cy="143.1" r="2.9" fill="url(#sg2)" opacity="0.47"/>
<circle cx="479.1" cy="61.7" r="4.7" fill="url(#sg2)" opacity="0.51"/>
<circle cx="533.6" cy="61.2" r="3.9" fill="url(#sg2)" opacity="0.44"/>
<circle cx="335.5" cy="75.2" r="3.9" fill="url(#sg2)" opacity="0.63"/>
<circle cx="459.8" cy="63.7" r="2.6" fill="url(#sg2)" opacity="0.56"/>
<circle cx="338.7" cy="100.4" r="2.9" fill="url(#sg2)" opacity="0.50"/>
<circle cx="381.5" cy="110.2" r="4.6" fill="url(#sg2)" opacity="0.51"/>
<circle cx="430.8" cy="48.9" r="3.8" fill="url(#sg2)" opacity="0.50"/>
<circle cx="374.3" cy="137.8" r="2.9" fill="url(#sg2)" opacity="0.47"/>
<circle cx="371.1" cy="79.9" r="4.6" fill="url(#sg2)" opacity="0.47"/>
<circle cx="348.4" cy="38.4" r="2.8" fill="url(#sg2)" opacity="0.48"/>
<circle cx="359.7" cy="62.0" r="3.4" fill="url(#sg2)" opacity="0.49"/>
<circle cx="488.4" cy="74.0" r="3.6" fill="url(#sg2)" opacity="0.48"/>
<circle cx="402.8" cy="136.5" r="4.6" fill="url(#sg2)" opacity="0.48"/>
<circle cx="409.6" cy="161.2" r="3.1" fill="url(#sg2)" opacity="0.46"/>
<circle cx="539.8" cy="94.5" r="4.1" fill="url(#sg2)" opacity="0.46"/>
<circle cx="399.2" cy="51.8" r="2.8" fill="url(#sg2)" opacity="0.46"/>
<circle cx="518.0" cy="66.6" r="4.1" fill="url(#sg2)" opacity="0.44"/>
<circle cx="417.9" cy="94.7" r="3.0" fill="url(#sg2)" opacity="0.50"/>
<circle cx="351.1" cy="62.7" r="4.1" fill="url(#sg2)" opacity="0.53"/>
<circle cx="437.4" cy="6.4" r="4.1" fill="url(#sg2)" opacity="0.46"/>
<circle cx="411.4" cy="17.6" r="3.1" fill="url(#sg2)" opacity="0.46"/>
<circle cx="359.3" cy="144.7" r="3.8" fill="url(#sg2)" opacity="0.45"/>
<circle cx="386.4" cy="47.9" r="3.2" fill="url(#sg2)" opacity="0.46"/>
<circle cx="375.4" cy="64.4" r="4.3" fill="url(#sg2)" opacity="0.47"/>
<circle cx="495.2" cy="123.6" r="4.5" fill="url(#sg2)" opacity="0.41"/>
<circle cx="463.5" cy="25.1" r="2.6" fill="url(#sg2)" opacity="0.47"/>
<circle cx="348.1" cy="49.5" r="3.7" fill="url(#sg2)" opacity="0.50"/>
<circle cx="503.1" cy="104.7" r="3.5" fill="url(#sg2)" opacity="0.45"/>
<circle cx="366.4" cy="171.4" r="4.2" fill="url(#sg2)" opacity="0.46"/>
<circle cx="389.8" cy="13.7" r="4.8" fill="url(#sg2)" opacity="0.46"/>
<circle cx="369.7" cy="148.8" r="2.8" fill="url(#sg2)" opacity="0.46"/>
<circle cx="463.3" cy="66.1" r="4.5" fill="url(#sg2)" opacity="0.55"/>
<circle cx="379.4" cy="23.0" r="3.0" fill="url(#sg2)" opacity="0.46"/>
<circle cx="499.2" cy="170.9" r="4.0" fill="url(#sg2)" opacity="0.39"/>
<circle cx="328.0" cy="70.0" r="15.0" fill="url(#sg3)" opacity="0.75"/>
<circle cx="338.0" cy="58.0" r="11.0" fill="url(#sg3)" opacity="0.75"/>
<circle cx="322.0" cy="86.0" r="12.0" fill="url(#sg3)" opacity="0.75"/>
<circle cx="340.0" cy="84.0" r="10.0" fill="url(#sg3)" opacity="0.75"/>
<circle cx="318.0" cy="58.0" r="9.0" fill="url(#sg3)" opacity="0.75"/>
<circle cx="455.0" cy="62.0" r="11.0" fill="url(#sg3)" opacity="0.75"/>
<circle cx="440.0" cy="70.0" r="9.0" fill="url(#sg3)" opacity="0.75"/>
<circle cx="385.7" cy="31.4" r="7.0" fill="url(#sg2)" opacity="0.87"/>
<circle cx="326.5" cy="96.3" r="6.0" fill="url(#sg3)" opacity="0.86"/>
<circle cx="411.6" cy="17.8" r="5.1" fill="url(#sg1)" opacity="0.70"/>
<circle cx="409.4" cy="145.3" r="5.2" fill="url(#sg2)" opacity="0.71"/>
<circle cx="362.0" cy="111.7" r="8.0" fill="url(#sg1)" opacity="0.80"/>
<circle cx="445.4" cy="72.8" r="8.1" fill="url(#sg2)" opacity="1.00"/>
<circle cx="320.4" cy="150.7" r="5.8" fill="url(#sg1)" opacity="0.85"/>
<circle cx="343.4" cy="25.8" r="5.8" fill="url(#sg3)" opacity="0.86"/>
<circle cx="501.7" cy="36.5" r="6.8" fill="url(#sg3)" opacity="0.88"/>
<circle cx="459.9" cy="68.7" r="6.7" fill="url(#sg1)" opacity="0.98"/>
<circle cx="324.2" cy="16.0" r="5.5" fill="url(#sg1)" opacity="0.84"/>
<circle cx="469.7" cy="78.0" r="5.9" fill="url(#sg1)" opacity="0.92"/>
<circle cx="447.4" cy="82.4" r="5.8" fill="url(#sg3)" opacity="0.81"/>
<circle cx="496.6" cy="123.8" r="5.6" fill="url(#sg1)" opacity="0.73"/>
<circle cx="444.7" cy="94.5" r="7.8" fill="url(#sg3)" opacity="0.86"/>
<circle cx="481.3" cy="54.5" r="8.1" fill="url(#sg3)" opacity="0.86"/>
<circle cx="337.2" cy="76.5" r="7.4" fill="url(#sg1)" opacity="1.00"/>
<circle cx="345.2" cy="88.4" r="4.9" fill="url(#sg1)" opacity="0.91"/>
<circle cx="466.8" cy="134.8" r="6.7" fill="url(#sg2)" opacity="0.63"/>
<circle cx="515.7" cy="58.9" r="7.2" fill="url(#sg1)" opacity="0.85"/>
<circle cx="449.4" cy="103.7" r="6.4" fill="url(#sg1)" opacity="0.86"/>
<circle cx="507.3" cy="165.2" r="6.4" fill="url(#sg2)" opacity="0.57"/>
<circle cx="465.9" cy="16.2" r="7.2" fill="url(#sg3)" opacity="0.91"/>
<circle cx="461.9" cy="173.3" r="7.6" fill="url(#sg3)" opacity="0.92"/>
<circle cx="376.5" cy="71.0" r="7.1" fill="url(#sg2)" opacity="0.88"/>
<circle cx="314.7" cy="83.8" r="5.4" fill="url(#sg3)" opacity="1.00"/>
<circle cx="337.0" cy="15.9" r="7.4" fill="url(#sg2)" opacity="0.87"/>
<circle cx="339.9" cy="47.7" r="6.1" fill="url(#sg2)" opacity="0.81"/>
<circle cx="514.7" cy="19.6" r="6.3" fill="url(#sg2)" opacity="0.67"/>
<circle cx="438.8" cy="154.9" r="7.6" fill="url(#sg2)" opacity="0.72"/>
<circle cx="393.9" cy="155.0" r="8.1" fill="url(#sg3)" opacity="0.79"/>
<circle cx="345.0" cy="35.7" r="5.6" fill="url(#sg1)" opacity="0.79"/>
<circle cx="364.4" cy="87.7" r="6.8" fill="url(#sg1)" opacity="0.82"/>
<circle cx="371.3" cy="6.7" r="6.2" fill="url(#sg3)" opacity="0.83"/>
<circle cx="396.4" cy="101.4" r="8.0" fill="url(#sg3)" opacity="1.00"/>
<circle cx="472.1" cy="92.9" r="6.9" fill="url(#sg3)" opacity="0.96"/>
<circle cx="493.2" cy="153.4" r="7.5" fill="url(#sg3)" opacity="0.65"/>
<circle cx="401.8" cy="73.2" r="5.2" fill="url(#sg1)" opacity="0.86"/>
<circle cx="358.6" cy="33.3" r="6.0" fill="url(#sg3)" opacity="0.84"/>
<circle cx="321.8" cy="6.0" r="5.3" fill="url(#sg2)" opacity="0.70"/>
<circle cx="333.3" cy="67.3" r="4.9" fill="url(#sg2)" opacity="1.00"/>
<circle cx="515.4" cy="109.5" r="5.3" fill="url(#sg1)" opacity="0.65"/>
<circle cx="368.8" cy="64.5" r="6.0" fill="url(#sg3)" opacity="0.71"/>
<circle cx="338.3" cy="149.0" r="8.2" fill="url(#sg2)" opacity="0.85"/>
<circle cx="419.2" cy="87.5" r="5.1" fill="url(#sg2)" opacity="0.96"/>
<circle cx="533.5" cy="95.0" r="5.3" fill="url(#sg1)" opacity="0.76"/>
<circle cx="437.4" cy="10.6" r="6.6" fill="url(#sg2)" opacity="0.89"/>
<circle cx="539.9" cy="151.5" r="7.2" fill="url(#sg2)" opacity="0.75"/>
<circle cx="491.3" cy="95.7" r="7.4" fill="url(#sg3)" opacity="0.77"/>
<circle cx="387.1" cy="43.6" r="7.6" fill="url(#sg2)" opacity="0.72"/>
<circle cx="502.2" cy="130.7" r="5.6" fill="url(#sg1)" opacity="0.67"/>
<circle cx="431.4" cy="65.9" r="4.9" fill="url(#sg2)" opacity="0.86"/>
<circle cx="316.0" cy="53.1" r="5.7" fill="url(#sg1)" opacity="1.00"/>
<circle cx="472.6" cy="167.2" r="6.3" fill="url(#sg1)" opacity="0.82"/>
<circle cx="530.2" cy="172.5" r="8.0" fill="url(#sg3)" opacity="0.69"/>
<circle cx="521.5" cy="147.6" r="6.4" fill="url(#sg3)" opacity="0.63"/>
<circle cx="465.0" cy="159.3" r="7.5" fill="url(#sg3)" opacity="0.86"/>
<circle cx="486.1" cy="86.5" r="5.4" fill="url(#sg2)" opacity="0.85"/>
<circle cx="495.3" cy="62.0" r="7.5" fill="url(#sg1)" opacity="0.81"/>
<circle cx="538.3" cy="72.7" r="6.2" fill="url(#sg2)" opacity="0.92"/>
<circle cx="532.5" cy="128.1" r="5.4" fill="url(#sg3)" opacity="0.76"/>
<circle cx="540.4" cy="116.7" r="6.0" fill="url(#sg2)" opacity="0.70"/>
<circle cx="438.7" cy="28.1" r="4.8" fill="url(#sg3)" opacity="0.69"/>
<circle cx="529.4" cy="79.1" r="7.8" fill="url(#sg3)" opacity="0.75"/>
<circle cx="523.8" cy="65.6" r="6.4" fill="url(#sg3)" opacity="0.69"/>
<circle cx="525.6" cy="90.5" r="6.6" fill="url(#sg1)" opacity="0.82"/>
<circle cx="352.5" cy="6.7" r="7.5" fill="url(#sg1)" opacity="0.94"/>
<circle cx="440.5" cy="60.9" r="6.6" fill="url(#sg3)" opacity="1.00"/>
<circle cx="440.3" cy="138.1" r="5.2" fill="url(#sg3)" opacity="0.80"/>
<circle cx="441.4" cy="47.9" r="5.7" fill="url(#sg3)" opacity="1.00"/>
<circle cx="422.0" cy="164.6" r="7.2" fill="url(#sg1)" opacity="0.67"/>
<circle cx="515.9" cy="164.8" r="5.7" fill="url(#sg1)" opacity="0.55"/>
<circle cx="441.2" cy="164.9" r="7.7" fill="url(#sg1)" opacity="0.88"/>
<circle cx="326.5" cy="46.5" r="5.0" fill="url(#sg1)" opacity="0.88"/>
<circle cx="345.8" cy="126.7" r="7.0" fill="url(#sg3)" opacity="0.70"/>
<circle cx="361.1" cy="166.5" r="6.2" fill="url(#sg3)" opacity="0.91"/>
<circle cx="347.4" cy="78.7" r="6.6" fill="url(#sg2)" opacity="1.00"/>
<circle cx="479.5" cy="9.3" r="6.7" fill="url(#sg1)" opacity="0.91"/>
<circle cx="413.2" cy="9.0" r="5.9" fill="url(#sg1)" opacity="0.95"/>
<circle cx="456.4" cy="92.3" r="5.0" fill="url(#sg2)" opacity="0.90"/>
<circle cx="541.5" cy="138.8" r="8.1" fill="url(#sg2)" opacity="0.73"/>
<circle cx="492.9" cy="51.6" r="5.2" fill="url(#sg1)" opacity="0.94"/>
<circle cx="408.9" cy="159.6" r="7.6" fill="url(#sg1)" opacity="0.78"/>
<circle cx="370.3" cy="31.2" r="7.9" fill="url(#sg2)" opacity="0.87"/>
<circle cx="443.8" cy="124.0" r="5.1" fill="url(#sg3)" opacity="0.71"/>
<circle cx="323.0" cy="122.0" r="6.2" fill="url(#sg3)" opacity="0.89"/>
<circle cx="326.5" cy="164.1" r="7.0" fill="url(#sg3)" opacity="0.71"/>
<circle cx="498.3" cy="20.1" r="7.7" fill="url(#sg3)" opacity="0.65"/>
<circle cx="321.3" cy="40.0" r="5.9" fill="url(#sg3)" opacity="0.93"/>
<circle cx="381.3" cy="134.0" r="5.8" fill="url(#sg1)" opacity="0.96"/>
<circle cx="427.2" cy="36.0" r="6.0" fill="url(#sg2)" opacity="0.69"/>
<circle cx="482.1" cy="98.9" r="5.4" fill="url(#sg2)" opacity="0.88"/>
<circle cx="502.3" cy="78.8" r="6.5" fill="url(#sg1)" opacity="0.78"/>
<circle cx="404.7" cy="64.6" r="5.0" fill="url(#sg1)" opacity="0.88"/>
<circle cx="507.6" cy="152.7" r="7.1" fill="url(#sg2)" opacity="0.70"/>
<circle cx="375.8" cy="46.8" r="5.8" fill="url(#sg3)" opacity="0.70"/>
<circle cx="417.6" cy="32.5" r="6.3" fill="url(#sg1)" opacity="0.80"/>
<circle cx="371.4" cy="168.1" r="8.1" fill="url(#sg2)" opacity="0.75"/>
<circle cx="399.3" cy="86.0" r="6.5" fill="url(#sg2)" opacity="0.91"/>
<circle cx="356.8" cy="91.0" r="4.8" fill="url(#sg3)" opacity="0.99"/>
<circle cx="371.6" cy="21.1" r="6.2" fill="url(#sg3)" opacity="0.95"/>
<circle cx="486.2" cy="116.8" r="7.2" fill="url(#sg3)" opacity="0.72"/>
<circle cx="516.5" cy="71.6" r="5.9" fill="url(#sg2)" opacity="0.81"/>
<circle cx="541.4" cy="31.2" r="7.3" fill="url(#sg3)" opacity="0.90"/>
<circle cx="428.2" cy="146.7" r="7.5" fill="url(#sg2)" opacity="0.74"/>
<circle cx="504.1" cy="104.4" r="7.8" fill="url(#sg1)" opacity="0.68"/>
<circle cx="470.3" cy="122.8" r="5.6" fill="url(#sg3)" opacity="0.79"/>
<circle cx="316.7" cy="28.4" r="6.0" fill="url(#sg2)" opacity="0.72"/>
<circle cx="457.3" cy="111.5" r="7.1" fill="url(#sg3)" opacity="0.94"/>
<circle cx="424.7" cy="6.6" r="7.5" fill="url(#sg1)" opacity="0.92"/>
<circle cx="481.2" cy="40.6" r="7.3" fill="url(#sg1)" opacity="0.76"/>
<circle cx="539.3" cy="89.2" r="6.1" fill="url(#sg2)" opacity="0.77"/>
<circle cx="422.3" cy="121.2" r="7.4" fill="url(#sg1)" opacity="0.80"/>
<circle cx="381.1" cy="101.7" r="4.8" fill="url(#sg2)" opacity="0.73"/>
<circle cx="431.1" cy="84.3" r="6.4" fill="url(#sg3)" opacity="0.80"/>
<circle cx="539.8" cy="163.8" r="4.9" fill="url(#sg2)" opacity="0.79"/>
<circle cx="415.3" cy="51.3" r="5.5" fill="url(#sg2)" opacity="0.87"/>
<circle cx="532.2" cy="41.5" r="6.8" fill="url(#sg3)" opacity="0.80"/>
<circle cx="518.3" cy="124.5" r="5.6" fill="url(#sg3)" opacity="0.77"/>
<circle cx="383.9" cy="147.6" r="4.8" fill="url(#sg2)" opacity="0.73"/>
<circle cx="486.3" cy="147.4" r="5.2" fill="url(#sg2)" opacity="0.66"/>
<circle cx="544.7" cy="105.3" r="6.0" fill="url(#sg1)" opacity="0.78"/>
<circle cx="461.2" cy="54.2" r="5.0" fill="url(#sg3)" opacity="0.96"/>
<circle cx="527.7" cy="27.5" r="6.4" fill="url(#sg3)" opacity="0.69"/>
<circle cx="390.4" cy="56.2" r="7.3" fill="url(#sg1)" opacity="0.93"/>
<circle cx="539.4" cy="49.8" r="7.0" fill="url(#sg2)" opacity="0.86"/>
<circle cx="390.0" cy="21.3" r="5.6" fill="url(#sg1)" opacity="0.93"/>
<circle cx="370.3" cy="102.0" r="7.8" fill="url(#sg3)" opacity="0.79"/>
<circle cx="486.0" cy="75.6" r="6.2" fill="url(#sg3)" opacity="0.89"/>
<circle cx="512.7" cy="42.4" r="5.7" fill="url(#sg1)" opacity="0.61"/>
<circle cx="314.5" cy="11.4" r="7.2" fill="url(#sg2)" opacity="0.84"/>
<circle cx="309.4" cy="72.0" r="8.0" fill="url(#sg1)" opacity="0.92"/>
<circle cx="417.1" cy="98.9" r="4.9" fill="url(#sg2)" opacity="1.00"/>
<circle cx="451.0" cy="7.8" r="5.8" fill="url(#sg3)" opacity="0.77"/>
<circle cx="517.6" cy="86.1" r="5.6" fill="url(#sg2)" opacity="0.76"/>
<circle cx="381.8" cy="9.7" r="6.5" fill="url(#sg1)" opacity="0.71"/>
<circle cx="317.4" cy="63.0" r="6.2" fill="url(#sg1)" opacity="1.00"/>
<circle cx="470.2" cy="39.4" r="7.5" fill="url(#sg3)" opacity="0.85"/>
<circle cx="363.8" cy="43.3" r="7.4" fill="url(#sg1)" opacity="0.77"/>
<circle cx="353.5" cy="43.6" r="6.2" fill="url(#sg1)" opacity="0.98"/>
<circle cx="402.1" cy="41.9" r="8.1" fill="url(#sg1)" opacity="0.68"/>
<circle cx="482.0" cy="174.1" r="8.0" fill="url(#sg3)" opacity="0.88"/>
<circle cx="392.2" cy="167.0" r="5.2" fill="url(#sg2)" opacity="0.75"/>
<circle cx="503.0" cy="144.5" r="6.3" fill="url(#sg1)" opacity="0.56"/>
<circle cx="520.7" cy="11.1" r="6.2" fill="url(#sg3)" opacity="0.67"/>
<circle cx="370.0" cy="131.9" r="7.9" fill="url(#sg3)" opacity="0.76"/>
<circle cx="531.6" cy="10.1" r="5.6" fill="url(#sg1)" opacity="0.84"/>
<circle cx="491.5" cy="108.3" r="5.9" fill="url(#sg3)" opacity="0.82"/>
<circle cx="517.5" cy="172.4" r="5.7" fill="url(#sg3)" opacity="0.81"/>
<circle cx="407.6" cy="110.5" r="7.1" fill="url(#sg1)" opacity="0.85"/>
<circle cx="492.6" cy="165.4" r="5.2" fill="url(#sg1)" opacity="0.64"/>
<circle cx="396.3" cy="29.8" r="5.5" fill="url(#sg2)" opacity="0.95"/>
<circle cx="357.3" cy="140.0" r="6.7" fill="url(#sg1)" opacity="0.66"/>
<circle cx="439.0" cy="113.7" r="5.1" fill="url(#sg1)" opacity="0.86"/>
<circle cx="376.1" cy="57.8" r="8.0" fill="url(#sg3)" opacity="0.84"/>
<circle cx="312.9" cy="98.9" r="7.0" fill="url(#sg1)" opacity="0.92"/>
<circle cx="335.0" cy="88.7" r="7.5" fill="url(#sg2)" opacity="1.00"/>
<circle cx="347.2" cy="138.4" r="5.6" fill="url(#sg3)" opacity="0.66"/>
<circle cx="424.7" cy="45.6" r="7.4" fill="url(#sg1)" opacity="0.78"/>
<circle cx="493.2" cy="83.2" r="5.4" fill="url(#sg1)" opacity="0.72"/>
<circle cx="420.9" cy="24.0" r="5.2" fill="url(#sg2)" opacity="0.89"/>
<circle cx="328.8" cy="129.6" r="7.4" fill="url(#sg1)" opacity="0.76"/>
<circle cx="346.8" cy="157.1" r="5.7" fill="url(#sg3)" opacity="0.89"/>
<circle cx="428.6" cy="59.8" r="4.9" fill="url(#sg2)" opacity="0.91"/>
<circle cx="334.0" cy="173.3" r="6.9" fill="url(#sg2)" opacity="0.91"/>
<circle cx="402.3" cy="140.4" r="5.7" fill="url(#sg3)" opacity="0.99"/>
<circle cx="341.1" cy="163.8" r="5.6" fill="url(#sg2)" opacity="0.76"/>
<circle cx="514.7" cy="137.8" r="6.2" fill="url(#sg3)" opacity="0.62"/>
<circle cx="367.9" cy="158.2" r="4.9" fill="url(#sg1)" opacity="0.83"/>
<circle cx="434.6" cy="74.4" r="5.6" fill="url(#sg1)" opacity="0.77"/>
<circle cx="323.2" cy="137.2" r="4.8" fill="url(#sg3)" opacity="0.77"/>
<circle cx="460.6" cy="143.1" r="5.4" fill="url(#sg2)" opacity="0.65"/>
<circle cx="310.9" cy="148.3" r="7.3" fill="url(#sg2)" opacity="0.72"/>
<circle cx="419.0" cy="131.0" r="6.3" fill="url(#sg3)" opacity="0.83"/>
<circle cx="362.6" cy="23.7" r="5.6" fill="url(#sg1)" opacity="0.76"/>
<circle cx="473.2" cy="148.4" r="7.2" fill="url(#sg1)" opacity="0.60"/>
<circle cx="458.0" cy="122.7" r="7.1" fill="url(#sg3)" opacity="0.90"/>
<circle cx="472.6" cy="112.8" r="7.2" fill="url(#sg2)" opacity="0.69"/>
<circle cx="524.8" cy="165.1" r="5.2" fill="url(#sg3)" opacity="0.66"/>
<circle cx="357.7" cy="59.8" r="6.2" fill="url(#sg3)" opacity="0.98"/>
<circle cx="478.0" cy="68.0" r="5.9" fill="url(#sg1)" opacity="0.80"/>
<circle cx="412.2" cy="136.3" r="6.0" fill="url(#sg1)" opacity="1.00"/>
<circle cx="505.4" cy="49.9" r="8.0" fill="url(#sg2)" opacity="0.78"/>
<circle cx="329.7" cy="155.7" r="4.9" fill="url(#sg1)" opacity="0.68"/>
<circle cx="487.2" cy="132.9" r="7.0" fill="url(#sg1)" opacity="0.69"/>
<circle cx="508.0" cy="117.6" r="7.3" fill="url(#sg1)" opacity="0.68"/>
<circle cx="380.4" cy="124.5" r="7.7" fill="url(#sg1)" opacity="1.00"/>
<circle cx="386.3" cy="94.0" r="5.3" fill="url(#sg3)" opacity="1.00"/>
<circle cx="481.1" cy="23.2" r="8.1" fill="url(#sg1)" opacity="0.87"/>
<circle cx="358.0" cy="71.4" r="4.9" fill="url(#sg1)" opacity="0.80"/>
<circle cx="427.3" cy="112.6" r="6.4" fill="url(#sg1)" opacity="0.85"/>
<circle cx="342.8" cy="107.7" r="6.2" fill="url(#sg2)" opacity="0.79"/>
<circle cx="484.0" cy="159.0" r="6.3" fill="url(#sg1)" opacity="0.81"/>
<circle cx="383.1" cy="111.9" r="5.1" fill="url(#sg2)" opacity="1.00"/>
<circle cx="416.6" cy="110.7" r="6.2" fill="url(#sg2)" opacity="0.97"/>
<circle cx="358.9" cy="121.3" r="6.1" fill="url(#sg2)" opacity="0.79"/>
<circle cx="403.6" cy="8.2" r="6.2" fill="url(#sg1)" opacity="0.73"/>
<circle cx="408.5" cy="123.7" r="6.0" fill="url(#sg1)" opacity="0.96"/>
<circle cx="369.1" cy="77.8" r="5.4" fill="url(#sg2)" opacity="0.83"/>
<circle cx="310.0" cy="127.6" r="5.8" fill="url(#sg3)" opacity="0.69"/>
<circle cx="458.6" cy="8.5" r="4.8" fill="url(#sg2)" opacity="0.74"/>
<circle cx="333.3" cy="30.1" r="5.6" fill="url(#sg1)" opacity="0.94"/>
<circle cx="522.4" cy="139.4" r="5.4" fill="url(#sg2)" opacity="0.67"/>
<circle cx="434.5" cy="131.0" r="6.3" fill="url(#sg2)" opacity="0.82"/>
<circle cx="517.4" cy="99.5" r="5.7" fill="url(#sg1)" opacity="0.77"/>
<circle cx="323.2" cy="84.7" r="5.3" fill="url(#sg2)" opacity="1.00"/>
<circle cx="507.4" cy="69.2" r="6.2" fill="url(#sg2)" opacity="0.80"/>
<circle cx="535.7" cy="18.7" r="7.0" fill="url(#sg1)" opacity="0.72"/>
<circle cx="490.9" cy="41.5" r="6.3" fill="url(#sg3)" opacity="0.92"/>
<circle cx="310.9" cy="38.0" r="7.9" fill="url(#sg2)" opacity="0.74"/>
<circle cx="523.8" cy="109.1" r="6.9" fill="url(#sg3)" opacity="0.71"/>
<circle cx="384.4" cy="78.6" r="7.0" fill="url(#sg1)" opacity="0.93"/>
<circle cx="511.0" cy="129.0" r="5.1" fill="url(#sg3)" opacity="0.63"/>
<circle cx="395.0" cy="114.7" r="6.9" fill="url(#sg2)" opacity="1.00"/>
<circle cx="451.0" cy="58.0" r="6.3" fill="url(#sg2)" opacity="0.99"/>
<circle cx="451.2" cy="157.0" r="7.5" fill="url(#sg3)" opacity="0.78"/>
<circle cx="373.9" cy="149.4" r="7.5" fill="url(#sg1)" opacity="0.90"/>
<circle cx="448.2" cy="37.9" r="5.5" fill="url(#sg2)" opacity="0.78"/>
<circle cx="317.3" cy="172.9" r="7.7" fill="url(#sg2)" opacity="0.89"/>
<circle cx="424.0" cy="101.6" r="5.7" fill="url(#sg2)" opacity="0.74"/>
<circle cx="352.0" cy="20.1" r="5.0" fill="url(#sg1)" opacity="0.71"/>
<circle cx="532.6" cy="159.3" r="5.0" fill="url(#sg3)" opacity="0.74"/>
<circle cx="518.8" cy="29.6" r="6.3" fill="url(#sg3)" opacity="0.84"/>
<circle cx="457.4" cy="82.2" r="6.0" fill="url(#sg2)" opacity="0.88"/>
<circle cx="384.3" cy="158.2" r="5.2" fill="url(#sg1)" opacity="0.69"/>
<circle cx="360.8" cy="102.3" r="5.3" fill="url(#sg1)" opacity="0.85"/>
<circle cx="421.7" cy="152.9" r="5.7" fill="url(#sg3)" opacity="0.68"/>
<circle cx="347.9" cy="68.5" r="6.8" fill="url(#sg1)" opacity="1.00"/>
<circle cx="426.0" cy="92.5" r="6.6" fill="url(#sg2)" opacity="0.77"/>
<circle cx="372.0" cy="120.3" r="5.7" fill="url(#sg1)" opacity="0.83"/>
<circle cx="462.0" cy="26.3" r="6.8" fill="url(#sg3)" opacity="0.79"/>
<circle cx="405.2" cy="54.6" r="5.6" fill="url(#sg2)" opacity="0.74"/>
<circle cx="491.3" cy="32.7" r="5.0" fill="url(#sg1)" opacity="0.71"/>
<circle cx="446.4" cy="20.8" r="7.9" fill="url(#sg2)" opacity="0.95"/>
<circle cx="433.1" cy="22.7" r="6.1" fill="url(#sg3)" opacity="0.90"/>
<circle cx="504.0" cy="92.4" r="5.2" fill="url(#sg3)" opacity="0.69"/>
<circle cx="346.2" cy="54.9" r="6.5" fill="url(#sg3)" opacity="0.87"/>
<circle cx="404.4" cy="17.0" r="5.2" fill="url(#sg1)" opacity="0.88"/>
<circle cx="359.5" cy="153.0" r="5.2" fill="url(#sg2)" opacity="0.66"/>
<circle cx="457.6" cy="36.6" r="5.2" fill="url(#sg2)" opacity="1.00"/>
<circle cx="351.7" cy="147.4" r="6.7" fill="url(#sg2)" opacity="0.84"/>
<circle cx="470.6" cy="64.8" r="4.8" fill="url(#sg1)" opacity="1.00"/>
<circle cx="410.3" cy="92.3" r="8.0" fill="url(#sg3)" opacity="1.00"/>
<circle cx="339.5" cy="134.4" r="4.9" fill="url(#sg2)" opacity="0.80"/>
<circle cx="393.7" cy="75.4" r="5.5" fill="url(#sg1)" opacity="0.73"/>
<circle cx="311.4" cy="160.9" r="7.0" fill="url(#sg3)" opacity="0.68"/>
<circle cx="413.8" cy="169.4" r="5.1" fill="url(#sg2)" opacity="0.88"/>
<circle cx="329.4" cy="60.5" r="6.4" fill="url(#sg2)" opacity="1.00"/>
<circle cx="434.3" cy="101.2" r="6.1" fill="url(#sg3)" opacity="0.93"/>
<circle cx="319.6" cy="107.7" r="5.1" fill="url(#sg2)" opacity="0.84"/>
<circle cx="527.4" cy="119.8" r="5.7" fill="url(#sg2)" opacity="0.71"/>
<circle cx="422.8" cy="67.9" r="5.6" fill="url(#sg1)" opacity="0.72"/>
<circle cx="322.9" cy="75.8" r="5.0" fill="url(#sg1)" opacity="1.00"/>
<circle cx="450.3" cy="49.3" r="6.4" fill="url(#sg1)" opacity="0.95"/>
<circle cx="352.2" cy="164.3" r="6.0" fill="url(#sg2)" opacity="0.87"/>
<circle cx="379.7" cy="173.5" r="5.5" fill="url(#sg1)" opacity="0.91"/>
<circle cx="463.3" cy="97.7" r="6.7" fill="url(#sg1)" opacity="0.92"/>
<circle cx="544.6" cy="6.9" r="6.9" fill="url(#sg2)" opacity="0.74"/>
<circle cx="448.9" cy="173.6" r="5.6" fill="url(#sg3)" opacity="0.69"/>
<circle cx="393.4" cy="141.3" r="6.6" fill="url(#sg3)" opacity="0.94"/>
<circle cx="330.9" cy="113.2" r="7.7" fill="url(#sg2)" opacity="0.97"/>
<circle cx="413.7" cy="67.9" r="7.2" fill="url(#sg1)" opacity="0.96"/>
<circle cx="468.4" cy="55.7" r="5.5" fill="url(#sg3)" opacity="1.00"/>
<circle cx="494.1" cy="139.7" r="7.1" fill="url(#sg3)" opacity="0.54"/>
<circle cx="531.3" cy="145.1" r="6.2" fill="url(#sg3)" opacity="0.64"/>
<circle cx="496.2" cy="6.8" r="6.5" fill="url(#sg3)" opacity="0.83"/>
<circle cx="337.8" cy="121.1" r="4.9" fill="url(#sg3)" opacity="0.89"/>
<circle cx="428.8" cy="172.6" r="5.4" fill="url(#sg1)" opacity="0.95"/>
<circle cx="512.5" cy="92.6" r="6.1" fill="url(#sg1)" opacity="0.72"/>
<circle cx="400.2" cy="168.4" r="5.7" fill="url(#sg2)" opacity="0.74"/>
<circle cx="340.9" cy="63.1" r="5.0" fill="url(#sg2)" opacity="1.00"/>
<circle cx="521.0" cy="157.5" r="7.3" fill="url(#sg1)" opacity="0.74"/>
<circle cx="451.5" cy="144.9" r="5.7" fill="url(#sg3)" opacity="0.75"/>
<circle cx="394.1" cy="123.9" r="5.0" fill="url(#sg2)" opacity="0.78"/>
<circle cx="507.0" cy="60.8" r="4.8" fill="url(#sg2)" opacity="0.70"/>
<circle cx="355.2" cy="130.0" r="6.6" fill="url(#sg1)" opacity="0.82"/>
<circle cx="335.0" cy="100.9" r="6.5" fill="url(#sg2)" opacity="0.84"/>
<circle cx="526.0" cy="50.3" r="5.3" fill="url(#sg2)" opacity="0.65"/>
<circle cx="448.7" cy="116.6" r="6.8" fill="url(#sg1)" opacity="0.88"/>
<circle cx="432.8" cy="120.1" r="5.0" fill="url(#sg2)" opacity="0.79"/>
<circle cx="360.0" cy="50.8" r="4.9" fill="url(#sg3)" opacity="0.91"/>
<circle cx="313.5" cy="119.9" r="5.3" fill="url(#sg3)" opacity="0.73"/>
<circle cx="528.3" cy="100.4" r="5.0" fill="url(#sg1)" opacity="0.77"/>
<circle cx="458.8" cy="46.6" r="5.7" fill="url(#sg2)" opacity="0.79"/>
<circle cx="477.2" cy="135.8" r="6.1" fill="url(#sg2)" opacity="0.74"/>
<circle cx="484.9" cy="63.6" r="5.4" fill="url(#sg3)" opacity="0.74"/>
<circle cx="399.1" cy="147.5" r="5.3" fill="url(#sg3)" opacity="0.71"/>
<circle cx="478.4" cy="78.3" r="5.1" fill="url(#sg1)" opacity="0.91"/>
<circle cx="353.4" cy="98.1" r="6.5" fill="url(#sg1)" opacity="0.72"/>
<circle cx="522.4" cy="40.0" r="6.8" fill="url(#sg3)" opacity="0.79"/>
<circle cx="543.8" cy="124.9" r="5.4" fill="url(#sg3)" opacity="0.77"/>
<circle cx="333.6" cy="52.6" r="5.2" fill="url(#sg2)" opacity="1.00"/>
<circle cx="310.2" cy="21.4" r="7.3" fill="url(#sg2)" opacity="0.74"/>
<circle cx="544.1" cy="59.6" r="7.9" fill="url(#sg2)" opacity="0.69"/>
<circle cx="374.8" cy="90.7" r="6.5" fill="url(#sg1)" opacity="0.89"/>
<circle cx="417.1" cy="146.2" r="6.1" fill="url(#sg3)" opacity="0.81"/>
<circle cx="350.2" cy="114.7" r="7.2" fill="url(#sg2)" opacity="0.82"/>
<circle cx="493.2" cy="173.8" r="5.5" fill="url(#sg1)" opacity="0.65"/>
<circle cx="413.2" cy="79.6" r="7.4" fill="url(#sg3)" opacity="0.85"/>
<circle cx="330.7" cy="38.8" r="6.6" fill="url(#sg3)" opacity="0.92"/>
</g>
<g opacity="0.55">
<line x1="441.3" y1="138.3" x2="453.2" y2="138.3" stroke="rgb(119,119,119)" stroke-width="1.2" opacity="0.50"/>
<line x1="328.2" y1="40.1" x2="343.3" y2="46.8" stroke="rgb(86,86,86)" stroke-width="0.7" opacity="0.51"/>
<line x1="436.7" y1="58.1" x2="437.6" y2="77.1" stroke="rgb(101,101,101)" stroke-width="1.1" opacity="0.79"/>
<line x1="336.1" y1="47.9" x2="346.2" y2="52.9" stroke="rgb(117,117,117)" stroke-width="1.3" opacity="0.75"/>
<line x1="430.2" y1="5.0" x2="420.9" y2="8.0" stroke="rgb(114,114,114)" stroke-width="1.1" opacity="0.78"/>
<line x1="421.9" y1="18.4" x2="425.0" y2="39.3" stroke="rgb(92,92,92)" stroke-width="0.6" opacity="0.52"/>
<line x1="443.4" y1="33.6" x2="430.5" y2="42.4" stroke="rgb(118,118,118)" stroke-width="0.7" opacity="0.46"/>
<line x1="496.8" y1="149.3" x2="516.7" y2="154.1" stroke="rgb(92,92,92)" stroke-width="0.7" opacity="0.59"/>
<line x1="364.9" y1="146.1" x2="348.3" y2="155.7" stroke="rgb(109,109,109)" stroke-width="0.8" opacity="0.53"/>
<line x1="400.4" y1="21.0" x2="409.3" y2="30.1" stroke="rgb(111,111,111)" stroke-width="0.7" opacity="0.77"/>
<line x1="355.1" y1="24.2" x2="350.6" y2="33.6" stroke="rgb(125,125,125)" stroke-width="0.7" opacity="0.76"/>
<line x1="480.2" y1="172.1" x2="466.4" y2="174.2" stroke="rgb(98,98,98)" stroke-width="0.8" opacity="0.51"/>
<line x1="332.3" y1="56.1" x2="322.8" y2="73.9" stroke="rgb(90,90,90)" stroke-width="1.4" opacity="0.48"/>
<line x1="530.3" y1="0.8" x2="526.4" y2="17.2" stroke="rgb(123,123,123)" stroke-width="1.2" opacity="0.49"/>
<line x1="402.9" y1="162.9" x2="390.2" y2="164.3" stroke="rgb(108,108,108)" stroke-width="1.4" opacity="0.61"/>
<line x1="418.8" y1="96.7" x2="399.4" y2="97.4" stroke="rgb(128,128,128)" stroke-width="1.0" opacity="0.74"/>
<line x1="467.6" y1="160.3" x2="451.9" y2="175.0" stroke="rgb(98,98,98)" stroke-width="0.7" opacity="0.61"/>
<line x1="528.0" y1="73.6" x2="518.9" y2="83.6" stroke="rgb(89,89,89)" stroke-width="1.0" opacity="0.62"/>
<line x1="486.8" y1="128.1" x2="465.0" y2="128.2" stroke="rgb(101,101,101)" stroke-width="1.2" opacity="0.80"/>
<line x1="473.4" y1="6.3" x2="473.4" y2="20.2" stroke="rgb(126,126,126)" stroke-width="1.0" opacity="0.66"/>
<line x1="375.3" y1="22.2" x2="388.7" y2="25.2" stroke="rgb(95,95,95)" stroke-width="1.0" opacity="0.84"/>
<line x1="424.1" y1="47.4" x2="419.9" y2="58.0" stroke="rgb(114,114,114)" stroke-width="0.6" opacity="0.67"/>
<line x1="534.8" y1="48.5" x2="541.1" y2="58.3" stroke="rgb(111,111,111)" stroke-width="1.0" opacity="0.77"/>
<line x1="308.8" y1="24.1" x2="312.5" y2="32.6" stroke="rgb(110,110,110)" stroke-width="0.9" opacity="0.50"/>
<line x1="435.2" y1="103.5" x2="449.4" y2="105.3" stroke="rgb(122,122,122)" stroke-width="1.1" opacity="0.78"/>
<line x1="389.3" y1="1.5" x2="387.0" y2="22.7" stroke="rgb(122,122,122)" stroke-width="1.1" opacity="0.81"/>
<line x1="379.4" y1="69.8" x2="384.7" y2="82.6" stroke="rgb(117,117,117)" stroke-width="0.9" opacity="0.56"/>
<line x1="519.8" y1="38.4" x2="520.2" y2="48.7" stroke="rgb(120,120,120)" stroke-width="0.7" opacity="0.53"/>
<line x1="501.8" y1="14.7" x2="492.0" y2="22.6" stroke="rgb(130,130,130)" stroke-width="0.8" opacity="0.48"/>
<line x1="484.6" y1="18.4" x2="495.2" y2="27.4" stroke="rgb(90,90,90)" stroke-width="1.3" opacity="0.64"/>
<line x1="363.3" y1="30.3" x2="377.0" y2="32.5" stroke="rgb(95,95,95)" stroke-width="1.2" opacity="0.53"/>
<line x1="423.4" y1="103.9" x2="429.8" y2="111.0" stroke="rgb(85,85,85)" stroke-width="0.7" opacity="0.56"/>
<line x1="529.0" y1="121.3" x2="524.2" y2="134.6" stroke="rgb(91,91,91)" stroke-width="1.4" opacity="0.69"/>
<line x1="318.1" y1="149.9" x2="324.4" y2="155.9" stroke="rgb(93,93,93)" stroke-width="1.1" opacity="0.82"/>
<line x1="531.7" y1="26.6" x2="536.5" y2="30.4" stroke="rgb(119,119,119)" stroke-width="0.9" opacity="0.56"/>
<line x1="528.0" y1="9.2" x2="529.3" y2="20.2" stroke="rgb(99,99,99)" stroke-width="0.9" opacity="0.63"/>
<line x1="360.6" y1="127.0" x2="379.1" y2="135.6" stroke="rgb(117,117,117)" stroke-width="1.4" opacity="0.54"/>
<line x1="511.5" y1="29.5" x2="517.3" y2="38.8" stroke="rgb(109,109,109)" stroke-width="1.2" opacity="0.52"/>
<line x1="376.3" y1="169.0" x2="374.2" y2="174.8" stroke="rgb(91,91,91)" stroke-width="0.7" opacity="0.48"/>
<line x1="535.5" y1="30.1" x2="552.4" y2="35.9" stroke="rgb(100,100,100)" stroke-width="0.6" opacity="0.48"/>
<line x1="322.6" y1="61.8" x2="332.1" y2="81.2" stroke="rgb(130,130,130)" stroke-width="1.2" opacity="0.78"/>
<line x1="343.6" y1="86.8" x2="334.1" y2="96.5" stroke="rgb(105,105,105)" stroke-width="0.7" opacity="0.58"/>
<line x1="325.4" y1="69.6" x2="333.9" y2="77.3" stroke="rgb(123,123,123)" stroke-width="1.1" opacity="0.84"/>
<line x1="540.8" y1="149.2" x2="534.5" y2="154.1" stroke="rgb(115,115,115)" stroke-width="1.4" opacity="0.55"/>
<line x1="416.1" y1="42.0" x2="433.1" y2="42.2" stroke="rgb(93,93,93)" stroke-width="1.1" opacity="0.79"/>
<line x1="304.5" y1="-0.3" x2="319.1" y2="15.6" stroke="rgb(101,101,101)" stroke-width="0.8" opacity="0.82"/>
<line x1="336.4" y1="62.4" x2="326.6" y2="63.0" stroke="rgb(85,85,85)" stroke-width="0.7" opacity="0.53"/>
<line x1="405.5" y1="90.4" x2="411.8" y2="92.5" stroke="rgb(96,96,96)" stroke-width="1.1" opacity="0.48"/>
<line x1="335.9" y1="39.0" x2="333.2" y2="57.5" stroke="rgb(107,107,107)" stroke-width="1.0" opacity="0.46"/>
<line x1="517.4" y1="16.6" x2="530.4" y2="19.0" stroke="rgb(128,128,128)" stroke-width="0.9" opacity="0.68"/>
<line x1="543.1" y1="109.3" x2="540.9" y2="117.9" stroke="rgb(105,105,105)" stroke-width="1.1" opacity="0.46"/>
<line x1="345.4" y1="147.4" x2="344.3" y2="157.5" stroke="rgb(116,116,116)" stroke-width="1.3" opacity="0.64"/>
<line x1="457.9" y1="49.6" x2="457.6" y2="59.7" stroke="rgb(119,119,119)" stroke-width="1.3" opacity="0.60"/>
<line x1="495.9" y1="44.0" x2="506.1" y2="48.7" stroke="rgb(104,104,104)" stroke-width="1.3" opacity="0.83"/>
<line x1="359.8" y1="17.4" x2="375.9" y2="18.6" stroke="rgb(128,128,128)" stroke-width="0.8" opacity="0.70"/>
<line x1="366.9" y1="52.3" x2="375.9" y2="60.2" stroke="rgb(90,90,90)" stroke-width="1.1" opacity="0.68"/>
<line x1="328.7" y1="42.1" x2="338.7" y2="43.1" stroke="rgb(125,125,125)" stroke-width="1.1" opacity="0.65"/>
<line x1="417.3" y1="123.8" x2="430.0" y2="124.5" stroke="rgb(107,107,107)" stroke-width="0.8" opacity="0.64"/>
<line x1="528.8" y1="85.5" x2="531.5" y2="90.9" stroke="rgb(97,97,97)" stroke-width="0.7" opacity="0.46"/>
<line x1="434.0" y1="63.8" x2="442.7" y2="68.7" stroke="rgb(110,110,110)" stroke-width="0.6" opacity="0.73"/>
<line x1="443.0" y1="115.1" x2="457.0" y2="116.7" stroke="rgb(113,113,113)" stroke-width="1.0" opacity="0.46"/>
<line x1="335.9" y1="61.8" x2="352.1" y2="66.4" stroke="rgb(95,95,95)" stroke-width="0.8" opacity="0.79"/>
<line x1="555.5" y1="159.0" x2="534.2" y2="160.7" stroke="rgb(102,102,102)" stroke-width="1.0" opacity="0.77"/>
<line x1="395.8" y1="22.3" x2="383.9" y2="38.2" stroke="rgb(85,85,85)" stroke-width="0.7" opacity="0.82"/>
<line x1="515.2" y1="135.6" x2="502.4" y2="138.0" stroke="rgb(123,123,123)" stroke-width="1.1" opacity="0.52"/>
<line x1="381.0" y1="30.2" x2="394.2" y2="32.1" stroke="rgb(127,127,127)" stroke-width="1.3" opacity="0.54"/>
<line x1="345.3" y1="14.8" x2="340.6" y2="32.7" stroke="rgb(109,109,109)" stroke-width="1.3" opacity="0.65"/>
<line x1="332.9" y1="124.4" x2="324.2" y2="124.9" stroke="rgb(119,119,119)" stroke-width="1.2" opacity="0.51"/>
<line x1="432.6" y1="45.6" x2="440.9" y2="52.5" stroke="rgb(121,121,121)" stroke-width="0.8" opacity="0.62"/>
<line x1="477.6" y1="40.2" x2="478.0" y2="48.7" stroke="rgb(127,127,127)" stroke-width="0.9" opacity="0.76"/>
<line x1="426.3" y1="6.9" x2="418.0" y2="25.1" stroke="rgb(91,91,91)" stroke-width="0.7" opacity="0.64"/>
<line x1="516.3" y1="134.2" x2="512.2" y2="139.7" stroke="rgb(124,124,124)" stroke-width="0.9" opacity="0.77"/>
<line x1="358.1" y1="100.8" x2="358.7" y2="108.0" stroke="rgb(127,127,127)" stroke-width="0.8" opacity="0.79"/>
<line x1="443.1" y1="83.4" x2="443.5" y2="100.8" stroke="rgb(109,109,109)" stroke-width="1.4" opacity="0.71"/>
<line x1="468.7" y1="65.4" x2="468.4" y2="75.5" stroke="rgb(89,89,89)" stroke-width="1.1" opacity="0.51"/>
<line x1="515.2" y1="45.3" x2="506.6" y2="62.1" stroke="rgb(123,123,123)" stroke-width="1.4" opacity="0.71"/>
<line x1="387.4" y1="138.4" x2="370.3" y2="147.4" stroke="rgb(99,99,99)" stroke-width="0.8" opacity="0.61"/>
<line x1="400.1" y1="10.6" x2="389.1" y2="27.3" stroke="rgb(116,116,116)" stroke-width="0.9" opacity="0.65"/>
<line x1="412.0" y1="13.3" x2="418.5" y2="16.5" stroke="rgb(88,88,88)" stroke-width="1.0" opacity="0.55"/>
<line x1="367.6" y1="117.8" x2="356.3" y2="120.1" stroke="rgb(129,129,129)" stroke-width="1.4" opacity="0.56"/>
<line x1="424.9" y1="22.2" x2="436.3" y2="24.9" stroke="rgb(117,117,117)" stroke-width="0.7" opacity="0.64"/>
<line x1="375.6" y1="162.8" x2="357.6" y2="170.8" stroke="rgb(123,123,123)" stroke-width="1.3" opacity="0.48"/>
<line x1="532.0" y1="108.9" x2="534.9" y2="120.8" stroke="rgb(123,123,123)" stroke-width="0.9" opacity="0.76"/>
<line x1="399.0" y1="95.0" x2="391.7" y2="100.8" stroke="rgb(120,120,120)" stroke-width="1.1" opacity="0.71"/>
<line x1="322.7" y1="9.5" x2="331.1" y2="28.0" stroke="rgb(115,115,115)" stroke-width="1.4" opacity="0.46"/>
<line x1="445.5" y1="35.4" x2="445.0" y2="46.5" stroke="rgb(118,118,118)" stroke-width="0.7" opacity="0.75"/>
<line x1="546.8" y1="143.7" x2="528.4" y2="146.7" stroke="rgb(130,130,130)" stroke-width="0.8" opacity="0.64"/>
<line x1="516.6" y1="160.0" x2="513.2" y2="178.4" stroke="rgb(106,106,106)" stroke-width="0.7" opacity="0.64"/>
<line x1="485.2" y1="32.9" x2="483.6" y2="46.5" stroke="rgb(88,88,88)" stroke-width="0.6" opacity="0.58"/>
<line x1="325.6" y1="160.6" x2="329.6" y2="171.6" stroke="rgb(89,89,89)" stroke-width="1.0" opacity="0.70"/>
<line x1="352" y1="8" x2="364" y2="30" stroke="#8a8a8a" stroke-width="1.2" opacity="0.9"/>
<line x1="371" y1="7" x2="360" y2="20" stroke="#8a8a8a" stroke-width="0.9" opacity="0.9"/>
<line x1="362" y1="80" x2="374" y2="62" stroke="#8a8a8a" stroke-width="1.4" opacity="0.9"/>
<line x1="462" y1="98" x2="476" y2="88" stroke="#8a8a8a" stroke-width="1.4" opacity="0.9"/>
<line x1="498" y1="82" x2="508" y2="70" stroke="#8a8a8a" stroke-width="1.2" opacity="0.9"/>
<line x1="327" y1="118" x2="345" y2="119" stroke="#8a8a8a" stroke-width="1.5" opacity="0.9"/>
<line x1="520" y1="22" x2="535" y2="9" stroke="#8a8a8a" stroke-width="1.2" opacity="0.9"/>
</g>
<g stroke="#fff" stroke-width="1.6"><line x1="327" y1="159" x2="368.3" y2="159"/><line x1="327.6" y1="156.3" x2="327.6" y2="161.7" stroke-width="1.3"/><line x1="367.7" y1="156.3" x2="367.7" y2="161.7" stroke-width="1.3"/></g>
<text x="327.5" y="154.6" font-family="Liberation Sans, sans-serif" font-weight="bold" font-size="7.6" fill="#fff">10 µm</text>
</g>
</g>
<g id="panel-c" filter="url(#soft)">
<rect x="36.5" y="191.4" width="3.2" height="184.1" fill="#fbeea0"/>
<rect x="39.7" y="191.4" width="29.2" height="184.1" fill="#c5f0d6"/>
<rect x="68.9" y="191.4" width="56.8" height="184.1" fill="#fbe3fa"/>
<g stroke="#3f6fc6" stroke-width="1.2" fill="none">
<line x1="37" y1="346" x2="120.5" y2="220" stroke-dasharray="5.5 4"/>
<line x1="60" y1="380.6" x2="233" y2="319.4" stroke-dasharray="5.5 4"/>
<circle cx="48.2" cy="364.7" r="20" stroke-dasharray="6 2.5 1.5 2.5"/>
</g>
<path d="M36.9 373.7L39.1 350.7M39.1 350.7L37.9 373.1" fill="none" stroke="#3a2a3a" stroke-width="1.1"/>
<path d="M48.5 361.4L49.2 355.8M50.2 355.7L51.0 359.3M52.1 359.2L62.1 288.0M63.7 281.8L87.5 218.0M89.1 218.2L107.6 324.5M111.3 327.9L157.0 331.5M163.2 332.8L255.5 366.3" fill="none" stroke="#3a2a3a" stroke-width="1.1"/>
<line x1="38.3" y1="373" x2="48.2" y2="364.8" stroke="#f0141e" stroke-width="5"/>
<rect x="36.6" y="370.2" width="4.2" height="4.8" fill="#ff4a14"/>
<path d="M35.5 350.2H42.7M39.1 346.6V353.8" stroke="#e6122c" stroke-width="2.0" fill="none"/>
<path d="M45.9 352.6H53.1M49.5 349.0V356.2" stroke="#e6122c" stroke-width="2.0" fill="none"/>
<path d="M48.1 362.4H55.3M51.7 358.8V366.0" stroke="#e6122c" stroke-width="2.0" fill="none"/>
<path d="M58.9 284.8H66.1M62.5 281.2V288.4" stroke="#e6122c" stroke-width="2.0" fill="none"/>
<path d="M85.0 215.1H92.2M88.6 211.5V218.7" stroke="#e6122c" stroke-width="2.0" fill="none"/>
<path d="M104.5 327.7H111.7M108.1 324.1V331.3" stroke="#e6122c" stroke-width="2.0" fill="none"/>
<path d="M156.6 331.7H163.8M160.2 328.1V335.3" stroke="#e6122c" stroke-width="2.0" fill="none"/>
<path d="M254.9 367.4H262.1M258.5 363.8V371.0" stroke="#e6122c" stroke-width="2.0" fill="none"/>
<rect x="36.5" y="191.4" width="227.9" height="184.1" fill="none" stroke="#111" stroke-width="1.5"/>
<path d="M36.5 375.5h-3.2M36.5 357.1h-1.8M36.5 338.7h-3.2M36.5 320.3h-1.8M36.5 301.9h-3.2M36.5 283.5h-1.8M36.5 265.1h-3.2M36.5 246.7h-1.8M36.5 228.3h-3.2M36.5 209.9h-1.8M36.5 191.5h-3.2M36.5 375.5v3.2M52.8 375.5v1.8M69.1 375.5v3.2M85.3 375.5v1.8M101.6 375.5v3.2M117.9 375.5v1.8M134.2 375.5v3.2M150.4 375.5v1.8M166.7 375.5v3.2M183.0 375.5v1.8M199.2 375.5v3.2M215.5 375.5v1.8M231.8 375.5v3.2M248.1 375.5v1.8M264.4 375.5v3.2" stroke="#111" stroke-width="1" fill="none"/>
<g font-family="Liberation Sans, sans-serif" font-size="9" fill="#222">
<text x="30.6" y="378.3" text-anchor="end">0</text>
<text x="30.6" y="341.5" text-anchor="end">2</text>
<text x="30.6" y="304.7" text-anchor="end">4</text>
<text x="30.6" y="267.9" text-anchor="end">6</text>
<text x="30.6" y="231.1" text-anchor="end">8</text>
<text x="30.6" y="194.3" text-anchor="end">10</text>
<text x="36.5" y="389.8" text-anchor="middle">0</text>
<text x="69.1" y="389.8" text-anchor="middle">50</text>
<text x="101.6" y="389.8" text-anchor="middle">100</text>
<text x="134.2" y="389.8" text-anchor="middle">150</text>
<text x="166.7" y="389.8" text-anchor="middle">200</text>
<text x="199.2" y="389.8" text-anchor="middle">250</text>
<text x="231.8" y="389.8" text-anchor="middle">300</text>
<text x="264.4" y="389.8" text-anchor="middle">350</text>
</g>
<g font-family="Liberation Serif, serif" font-weight="bold" fill="#111" stroke="#111" stroke-width="0.2">
<text x="151" y="407.3" font-size="9.6" text-anchor="middle">Pore Width (nm)</text>
<text transform="translate(15.1,277.5) rotate(-90)" font-size="9.55" text-anchor="middle">dv/dlog(w) Pore Volume ×10<tspan dy="-4" font-size="7.2"> -2</tspan><tspan dy="4"> (cm3/g)</tspan></text>
<text x="84" y="184.7" font-size="9.65">Microporous Region</text>
<text transform="translate(56.2,241.5) rotate(-90)" font-size="9.6" text-anchor="middle" fill="#1c4a22" stroke="#1c4a22">Mesoporous Region</text>
<text transform="translate(94,319.5) rotate(-90)" font-size="9.6" text-anchor="middle" fill="#5a1c50" stroke="#5a1c50">Macroporous Region</text>
</g>
<path d="M84 182.2H37V188" stroke="#e8141c" stroke-width="1" fill="none"/><polygon points="34.8,186.5 39.2,186.5 37,191.3" fill="#e8141c"/>
<path d="M158.3 296.0L161.0 296.3M166.9 296.9L169.5 297.1M175.5 296.7L178.1 296.2M183.2 293.5L190.4 286.2M193.1 281.1L203.1 225.7M204.5 225.7L220.3 284.1M224.1 287.7L232.8 289.6M238.1 292.0L239.1 292.8M244.4 294.6L247.3 294.6M253.3 294.5L255.6 294.3" fill="none" stroke="#111" stroke-width="1.4"/>
<path d="M146.4 294.0H152.8M149.6 290.8V297.2" stroke="#e6122c" stroke-width="1.9" fill="none"/>
<path d="M152.2 295.6H158.6M155.4 292.4V298.8" stroke="#e6122c" stroke-width="1.9" fill="none"/>
<path d="M160.7 296.6H167.1M163.9 293.4V299.8" stroke="#e6122c" stroke-width="1.9" fill="none"/>
<path d="M169.3 297.3H175.7M172.5 294.1V300.5" stroke="#e6122c" stroke-width="1.9" fill="none"/>
<path d="M177.9 295.6H184.3M181.1 292.4V298.8" stroke="#e6122c" stroke-width="1.9" fill="none"/>
<path d="M189.3 284.1H195.7M192.5 280.9V287.3" stroke="#e6122c" stroke-width="1.9" fill="none"/>
<path d="M200.5 222.8H206.9M203.7 219.6V226.0" stroke="#e6122c" stroke-width="1.9" fill="none"/>
<path d="M217.9 287.0H224.3M221.1 283.8V290.2" stroke="#e6122c" stroke-width="1.9" fill="none"/>
<path d="M232.5 290.2H238.9M235.7 287.0V293.4" stroke="#e6122c" stroke-width="1.9" fill="none"/>
<path d="M238.2 294.6H244.6M241.4 291.4V297.8" stroke="#e6122c" stroke-width="1.9" fill="none"/>
<path d="M247.1 294.6H253.5M250.3 291.4V297.8" stroke="#e6122c" stroke-width="1.9" fill="none"/>
<path d="M255.4 294.2H261.8M258.6 291.0V297.4" stroke="#e6122c" stroke-width="1.9" fill="none"/>
<rect x="146.2" y="204.9" width="114.4" height="93.2" fill="none" stroke="#111" stroke-width="0.9"/>
<path d="M146.2 298.1h2.2M146.2 287.3h1.3M146.2 276.5h2.2M146.2 265.7h1.3M146.2 254.9h2.2M146.2 244.1h1.3M146.2 233.3h2.2M146.2 222.5h1.3M146.2 211.7h2.2M146.2 298.1v-2.2M160.5 298.1v-1.3M174.8 298.1v-2.2M189.1 298.1v-1.3M203.4 298.1v-2.2M217.7 298.1v-1.3M232.0 298.1v-2.2M246.3 298.1v-1.3M260.6 298.1v-2.2" stroke="#111" stroke-width="0.7" fill="none"/>
<g font-family="Liberation Sans, sans-serif" font-weight="bold" font-size="6" fill="#222">
<text x="144" y="300.3" text-anchor="end">0.0</text>
<text x="144" y="278.7" text-anchor="end">0.4</text>
<text x="144" y="257.1" text-anchor="end">0.8</text>
<text x="144" y="235.5" text-anchor="end">1.2</text>
<text x="144" y="213.9" text-anchor="end">1.6</text>
<text x="146.2" y="306.4" text-anchor="middle">2</text>
<text x="174.8" y="306.4" text-anchor="middle">3</text>
<text x="203.4" y="306.4" text-anchor="middle">4</text>
<text x="232.0" y="306.4" text-anchor="middle">5</text>
<text x="260.6" y="306.4" text-anchor="middle">6</text>
</g>
<g font-family="Liberation Serif, serif" font-weight="bold" fill="#222">
<text x="201.2" y="317" font-size="5.4" text-anchor="middle">Pore Width (nm)</text>
<text transform="translate(133.2,251) rotate(-90)" font-size="6.1" text-anchor="middle">dv/dlog(w) Pore Volume ×10<tspan dy="-2.4" font-size="4.6"> -2</tspan><tspan dy="2.4"> (cm3/g)</tspan></text>
</g>
<text x="264.3" y="402.4" font-family="Liberation Sans, sans-serif" font-size="12.6" letter-spacing="0.5" text-anchor="middle" fill="#222">(c)</text>
</g>
<g id="panel-d" filter="url(#soft)">
<rect x="310.6" y="187.3" width="235.0" height="189.7" fill="#fff" stroke="#111" stroke-width="1.5"/>
<path d="M310.6 376.0h-1.5M310.6 357.2h-2.6M310.6 338.4h-1.5M310.6 319.6h-2.6M310.6 300.8h-1.5M310.6 282.0h-2.6M310.6 263.2h-1.5M310.6 244.4h-2.6M310.6 225.6h-1.5M310.6 206.8h-2.6M310.6 188.0h-1.5M334.1 377.0v2.6M357.6 377.0v1.5M381.1 377.0v2.6M404.6 377.0v1.5M428.1 377.0v2.6M451.6 377.0v1.5M475.1 377.0v2.6M498.6 377.0v1.5M522.1 377.0v2.6" stroke="#111" stroke-width="1" fill="none"/>
<g font-family="Liberation Sans, sans-serif" font-size="7.4" fill="#333">
<text x="304" y="359.9" text-anchor="end">9.2</text>
<text x="304" y="322.3" text-anchor="end">9.3</text>
<text x="304" y="284.7" text-anchor="end">9.4</text>
<text x="304" y="247.1" text-anchor="end">9.5</text>
<text x="304" y="209.5" text-anchor="end">9.6</text>
<text x="334.1" y="389.3" text-anchor="middle">30</text>
<text x="381.1" y="389.3" text-anchor="middle">40</text>
<text x="428.1" y="389.3" text-anchor="middle">50</text>
<text x="475.1" y="389.3" text-anchor="middle">60</text>
<text x="522.1" y="389.3" text-anchor="middle">70</text>
</g>
<line x1="334.1" y1="224.3" x2="522.1" y2="361.0" stroke="#dc1c24" stroke-width="1.5" stroke-dasharray="8 2.5 1.6 2.5"/>
<polygon points="334.10,206.96 335.02,209.60 337.81,209.65 335.58,211.34 336.39,214.02 334.10,212.42 331.81,214.02 332.62,211.34 330.39,209.65 333.18,209.60" fill="#111"/>
<polygon points="381.10,270.88 382.02,273.52 384.81,273.57 382.58,275.26 383.39,277.94 381.10,276.34 378.81,277.94 379.62,275.26 377.39,273.57 380.18,273.52" fill="#111"/>
<polygon points="428.10,300.96 429.02,303.60 431.81,303.65 429.58,305.34 430.39,308.02 428.10,306.42 425.81,308.02 426.62,305.34 424.39,303.65 427.18,303.60" fill="#111"/>
<polygon points="475.10,308.48 476.02,311.12 478.81,311.17 476.58,312.86 477.39,315.54 475.10,313.94 472.81,315.54 473.62,312.86 471.39,311.17 474.18,311.12" fill="#111"/>
<polygon points="522.10,357.36 523.02,360.00 525.81,360.05 523.58,361.74 524.39,364.42 522.10,362.82 519.81,364.42 520.62,361.74 518.39,360.05 521.18,360.00" fill="#111"/>
<polygon points="490.80,199.90 491.67,202.40 494.32,202.46 492.21,204.06 492.97,206.59 490.80,205.08 488.63,206.59 489.39,204.06 487.28,202.46 489.93,202.40" fill="#111"/>
<line x1="480" y1="214.7" x2="502" y2="214.7" stroke="#e0161c" stroke-width="1.4" stroke-dasharray="6.5 2.3 1.8 2.3"/>
<g font-family="Liberation Serif, serif" fill="#111">
<text x="503.3" y="206.4" font-size="8.8">Sample</text>
<text x="503.3" y="217.8" font-size="8.8">Trend</text>
<text x="428.5" y="405.3" font-size="9.45" text-anchor="middle">Temp. (<tspan dy="-3" font-size="6">o</tspan><tspan dy="3">C)</tspan></text>
<text transform="translate(286.3,281) rotate(-90)" font-size="10.15" text-anchor="middle">Adsorption Capacity (mg.g<tspan dy="-3.2" font-size="6.2">−1</tspan><tspan dy="3.2">)</tspan></text>
</g>
<text x="312.3" y="402.4" font-family="Liberation Sans, sans-serif" font-size="12.6" letter-spacing="0.5" text-anchor="middle" fill="#222">(d)</text>
</g>
</svg>
</body></html>
